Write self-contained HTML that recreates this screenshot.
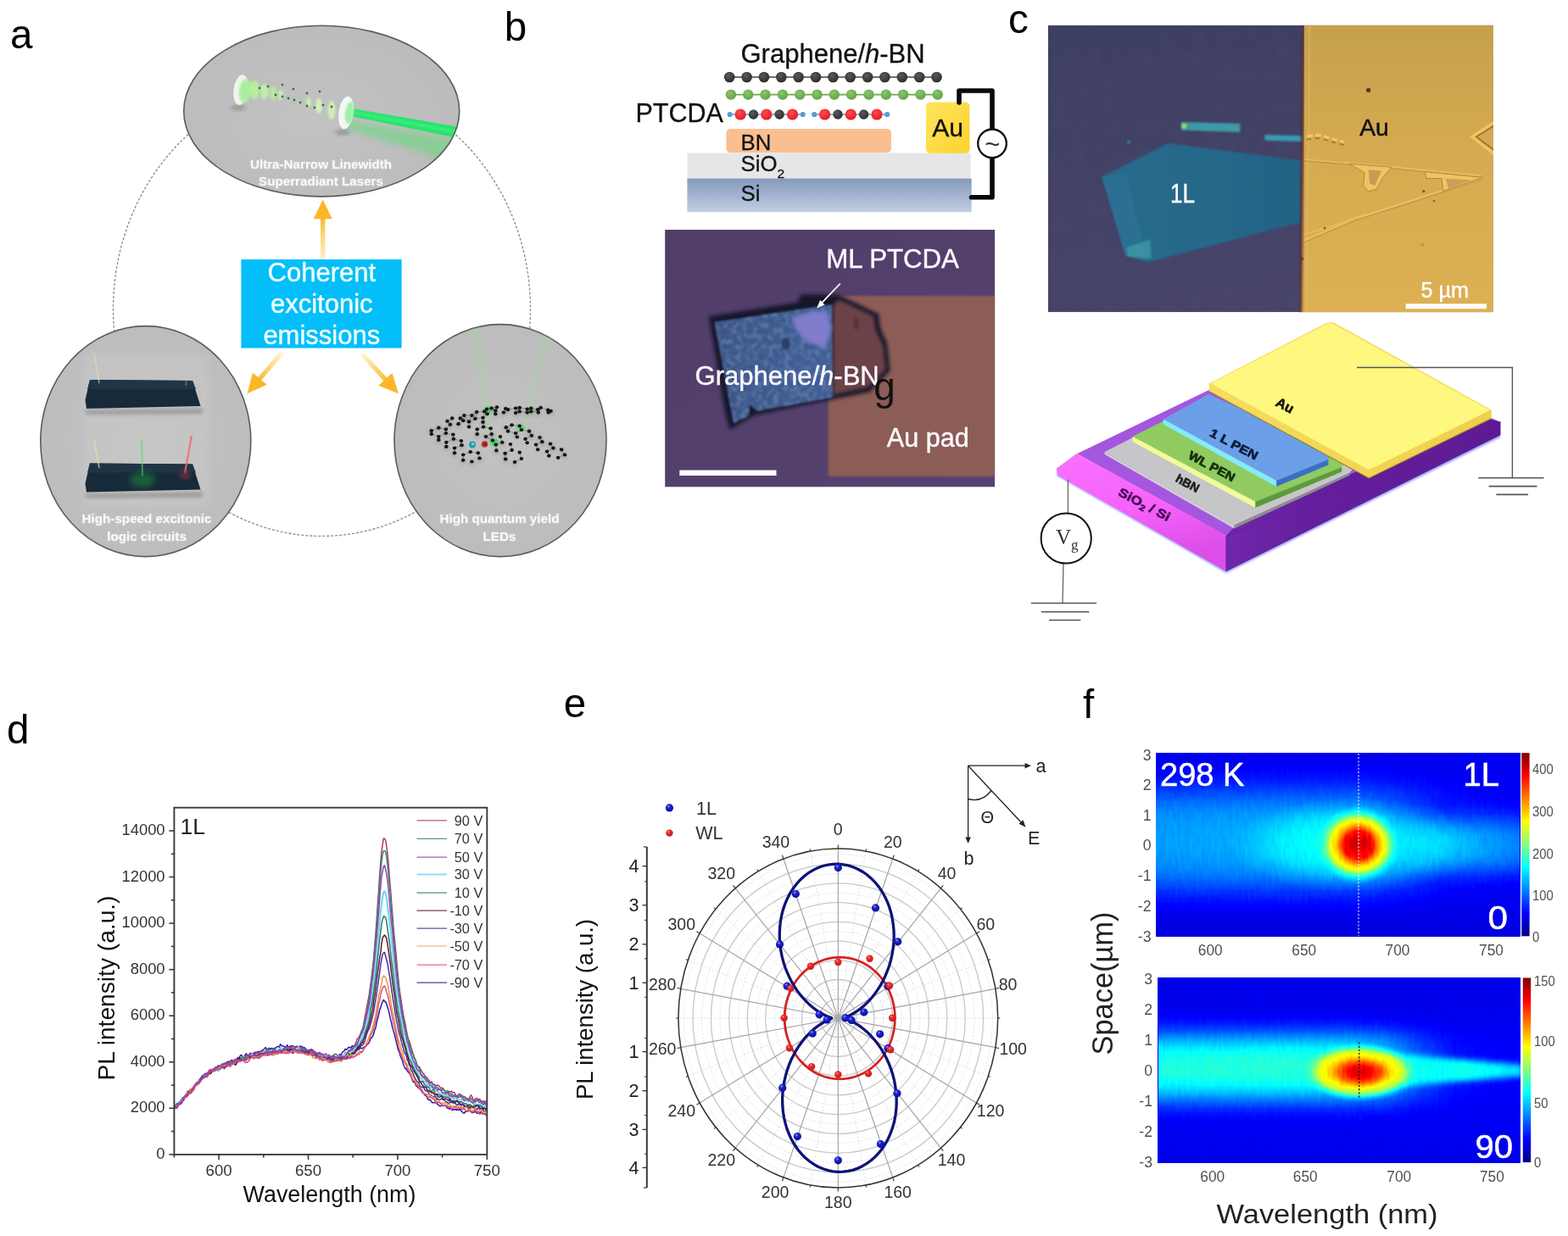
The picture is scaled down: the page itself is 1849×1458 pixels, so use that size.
<!DOCTYPE html>
<html lang="en"><head><meta charset="utf-8"><title>Figure</title>
<style>
html,body{margin:0;padding:0;background:#fff;}
body{width:1849px;height:1458px;overflow:hidden;}
svg{display:block;font-family:"Liberation Sans",sans-serif;filter:blur(0.5px);}
</style></head><body>
<svg width="1849" height="1458" viewBox="0 0 1849 1458">
<defs>

<linearGradient id="arrUp" x1="0" y1="0" x2="0" y2="1"><stop offset="0" stop-color="#fbb62a"/><stop offset="0.35" stop-color="#fcd06a"/><stop offset="1" stop-color="#fef0cc"/></linearGradient>
<linearGradient id="arrSide" x1="0" y1="0" x2="1" y2="0"><stop offset="0" stop-color="#fbb62a"/><stop offset="0.4" stop-color="#fcd06a"/><stop offset="1" stop-color="#fff6e0"/></linearGradient>
<radialGradient id="gEllTop" cx="0.45" cy="0.55" r="0.7"><stop offset="0" stop-color="#c2c2c2"/><stop offset="1" stop-color="#bababa"/></radialGradient>
<radialGradient id="gEllL" cx="0.5" cy="0.5" r="0.7"><stop offset="0" stop-color="#c4c4c4"/><stop offset="1" stop-color="#bababa"/></radialGradient>
<radialGradient id="gEllR" cx="0.5" cy="0.5" r="0.7"><stop offset="0" stop-color="#c2c2c2"/><stop offset="1" stop-color="#bababa"/></radialGradient>
<clipPath id="clipTop"><ellipse cx="379.2" cy="131.1" rx="162.5" ry="100.8"/></clipPath>
<clipPath id="clipR"><ellipse cx="590" cy="519.6" rx="125" ry="137"/></clipPath>
<filter id="blur05" x="-5%" y="-5%" width="110%" height="110%"><feGaussianBlur stdDeviation="0.55"/></filter>
<filter id="blur1" x="-50%" y="-50%" width="200%" height="200%"><feGaussianBlur stdDeviation="1"/></filter>
<filter id="blur2" x="-50%" y="-50%" width="200%" height="200%"><feGaussianBlur stdDeviation="2"/></filter>
<filter id="blur3" x="-50%" y="-50%" width="200%" height="200%"><feGaussianBlur stdDeviation="3.5"/></filter>
<filter id="tglow" x="-10%" y="-30%" width="120%" height="160%"><feGaussianBlur in="SourceAlpha" stdDeviation="1.2" result="b"/><feFlood flood-color="#ffffff" flood-opacity="0.35"/><feComposite in2="b" operator="in" result="g"/><feMerge><feMergeNode in="g"/><feMergeNode in="SourceGraphic"/></feMerge></filter>

<radialGradient id="atomDark" cx="0.4" cy="0.35" r="0.7"><stop offset="0" stop-color="#5a5a5a"/><stop offset="1" stop-color="#2a2a2a"/></radialGradient>
<radialGradient id="atomGreen" cx="0.4" cy="0.35" r="0.7"><stop offset="0" stop-color="#8cc66c"/><stop offset="1" stop-color="#5e9f45"/></radialGradient>
<radialGradient id="atomRed" cx="0.4" cy="0.35" r="0.7"><stop offset="0" stop-color="#ff4a4a"/><stop offset="1" stop-color="#e01b24"/></radialGradient>
<linearGradient id="gSi" x1="0" y1="0" x2="0" y2="1"><stop offset="0" stop-color="#8599bd"/><stop offset="0.5" stop-color="#a3b3d0"/><stop offset="1" stop-color="#c3cde2"/></linearGradient>
<linearGradient id="gAu" x1="0" y1="0" x2="1" y2="1"><stop offset="0" stop-color="#ffe460"/><stop offset="1" stop-color="#fbd32c"/></linearGradient>
<linearGradient id="gPhotoB" x1="0" y1="0" x2="1" y2="1"><stop offset="0" stop-color="#503d68"/><stop offset="1" stop-color="#574270"/></linearGradient>
<linearGradient id="gFlakeB" x1="0" y1="0" x2="1" y2="0"><stop offset="0" stop-color="#3b5684"/><stop offset="1" stop-color="#415e96"/></linearGradient>
<clipPath id="clipPhotoB"><rect x="784.1" y="270.9" width="389.1" height="303.7"/></clipPath>
<filter id="blurB2" x="-20%" y="-20%" width="140%" height="140%"><feGaussianBlur stdDeviation="1.9"/></filter>
<filter id="blurB1" x="-20%" y="-20%" width="140%" height="140%"><feGaussianBlur stdDeviation="1.3"/></filter>
<filter id="noiseB" x="0" y="0" width="100%" height="100%"><feTurbulence type="fractalNoise" baseFrequency="0.16" numOctaves="2" seed="3" result="n"/><feColorMatrix in="n" type="matrix" values="0 0 0 0 1  0 0 0 0 1  0 0 0 0 1  0 0 0 3.2 -1.35" result="a"/><feComposite in="SourceGraphic" in2="a" operator="in"/><feGaussianBlur stdDeviation="0.8"/></filter>

<clipPath id="clipPhotoC"><rect x="1235.7" y="29.7" width="525" height="338.6"/></clipPath>
<linearGradient id="gDarkC" x1="0" y1="0" x2="0.2" y2="1"><stop offset="0" stop-color="#3d3f62"/><stop offset="1" stop-color="#484469"/></linearGradient>
<linearGradient id="gGoldC" x1="0" y1="0" x2="0" y2="1"><stop offset="0" stop-color="#c5a14c"/><stop offset="0.45" stop-color="#d6aa50"/><stop offset="1" stop-color="#ddb053"/></linearGradient>
<linearGradient id="gFlakeC" x1="0" y1="0" x2="1" y2="0"><stop offset="0" stop-color="#286c8c"/><stop offset="1" stop-color="#236386"/></linearGradient>
<linearGradient id="gMag" x1="0" y1="0" x2="0.3" y2="1"><stop offset="0" stop-color="#f872fd"/><stop offset="0.55" stop-color="#f662fa"/><stop offset="1" stop-color="#dc4ee8"/></linearGradient>
<linearGradient id="gSideC" x1="0" y1="0" x2="1" y2="0"><stop offset="0" stop-color="#7026aa"/><stop offset="0.3" stop-color="#651f9e"/><stop offset="1" stop-color="#5c1b92"/></linearGradient>
<linearGradient id="gAuEdge" x1="0" y1="0" x2="1" y2="0"><stop offset="0" stop-color="#f6dc5e"/><stop offset="1" stop-color="#efcf4c"/></linearGradient>
<filter id="blurC1" x="-20%" y="-20%" width="140%" height="140%"><feGaussianBlur stdDeviation="1.1"/></filter>
<filter id="blurC05" x="-50%" y="-50%" width="200%" height="200%"><feGaussianBlur stdDeviation="0.7"/></filter>
<filter id="noiseC" x="0" y="0" width="100%" height="100%"><feTurbulence type="fractalNoise" baseFrequency="0.05" numOctaves="2" seed="7" result="n"/><feColorMatrix in="n" type="matrix" values="0 0 0 0 1  0 0 0 0 1  0 0 0 0 1  0 0 0 4 -1.6" result="a"/><feComposite in="SourceGraphic" in2="a" operator="in"/></filter>

<clipPath id="clipD"><rect x="205.4" y="952.7" width="368.9" height="409.2"/></clipPath>

<radialGradient id="ballB" cx="0.38" cy="0.32" r="0.75"><stop offset="0" stop-color="#8a9aff"/><stop offset="0.3" stop-color="#1c24c8"/><stop offset="1" stop-color="#0a0a96"/></radialGradient>
<radialGradient id="ballR" cx="0.38" cy="0.32" r="0.75"><stop offset="0" stop-color="#ffa0a0"/><stop offset="0.25" stop-color="#e83030"/><stop offset="1" stop-color="#c01818"/></radialGradient>
<filter id="jet1" filterUnits="userSpaceOnUse" x="1363" y="888.2" width="429.3" height="216.1" color-interpolation-filters="sRGB">
<feTurbulence type="fractalNoise" baseFrequency="0.28 0.07" numOctaves="1" seed="3" result="n"/>
<feColorMatrix in="n" type="matrix" values="1 0 0 0 0  1 0 0 0 0  1 0 0 0 0  0 0 0 0 1" result="ng"/>
<feComposite in="SourceGraphic" in2="ng" operator="arithmetic" k1="0.10" k2="0.95" k3="0.012" k4="-0.006" result="s"/>
<feComponentTransfer in="s"><feFuncR type="table" tableValues="0 0 0 0 0.5 1 1 1 0.5"/><feFuncG type="table" tableValues="0 0 0.5 1 1 1 0.5 0 0"/><feFuncB type="table" tableValues="0.5 1 1 1 0.5 0 0 0 0"/><feFuncA type="linear" slope="0" intercept="1"/></feComponentTransfer>
</filter><filter id="jet2" filterUnits="userSpaceOnUse" x="1365.5" y="1153.5" width="427.5" height="217.6" color-interpolation-filters="sRGB">
<feTurbulence type="fractalNoise" baseFrequency="0.28 0.07" numOctaves="1" seed="8" result="n"/>
<feColorMatrix in="n" type="matrix" values="1 0 0 0 0  1 0 0 0 0  1 0 0 0 0  0 0 0 0 1" result="ng"/>
<feComposite in="SourceGraphic" in2="ng" operator="arithmetic" k1="0.10" k2="0.95" k3="0.012" k4="-0.006" result="s"/>
<feComponentTransfer in="s"><feFuncR type="table" tableValues="0 0 0 0 0.5 1 1 1 0.5"/><feFuncG type="table" tableValues="0 0 0.5 1 1 1 0.5 0 0"/><feFuncB type="table" tableValues="0.5 1 1 1 0.5 0 0 0 0"/><feFuncA type="linear" slope="0" intercept="1"/></feComponentTransfer>
</filter><linearGradient id="bg1" x1="0" y1="0" x2="0" y2="1"><stop offset="0" stop-color="#1c1c1c"/><stop offset="0.5" stop-color="#1f1f1f"/><stop offset="0.8" stop-color="#1c1c1c"/><stop offset="1" stop-color="#181818"/></linearGradient><linearGradient id="bg2" x1="0" y1="0" x2="0" y2="1"><stop offset="0" stop-color="#1a1a1a"/><stop offset="0.5" stop-color="#1f1f1f"/><stop offset="0.8" stop-color="#1d1d1d"/><stop offset="1" stop-color="#1b1b1b"/></linearGradient><linearGradient id="band1v" x1="0" y1="0" x2="0" y2="1"><stop offset="0.000" stop-color="#fff" stop-opacity="0.001"/><stop offset="0.042" stop-color="#fff" stop-opacity="0.004"/><stop offset="0.083" stop-color="#fff" stop-opacity="0.012"/><stop offset="0.125" stop-color="#fff" stop-opacity="0.029"/><stop offset="0.167" stop-color="#fff" stop-opacity="0.057"/><stop offset="0.208" stop-color="#fff" stop-opacity="0.093"/><stop offset="0.250" stop-color="#fff" stop-opacity="0.130"/><stop offset="0.292" stop-color="#fff" stop-opacity="0.161"/><stop offset="0.333" stop-color="#fff" stop-opacity="0.183"/><stop offset="0.375" stop-color="#fff" stop-opacity="0.195"/><stop offset="0.417" stop-color="#fff" stop-opacity="0.199"/><stop offset="0.458" stop-color="#fff" stop-opacity="0.200"/><stop offset="0.500" stop-color="#fff" stop-opacity="0.200"/><stop offset="0.542" stop-color="#fff" stop-opacity="0.199"/><stop offset="0.583" stop-color="#fff" stop-opacity="0.193"/><stop offset="0.625" stop-color="#fff" stop-opacity="0.179"/><stop offset="0.667" stop-color="#fff" stop-opacity="0.156"/><stop offset="0.708" stop-color="#fff" stop-opacity="0.123"/><stop offset="0.750" stop-color="#fff" stop-opacity="0.085"/><stop offset="0.792" stop-color="#fff" stop-opacity="0.050"/><stop offset="0.833" stop-color="#fff" stop-opacity="0.025"/><stop offset="0.875" stop-color="#fff" stop-opacity="0.009"/><stop offset="0.917" stop-color="#fff" stop-opacity="0.003"/><stop offset="0.958" stop-color="#fff" stop-opacity="0.001"/><stop offset="1.000" stop-color="#fff" stop-opacity="0.000"/></linearGradient><linearGradient id="band1mg" x1="0" y1="0" x2="1" y2="0"><stop offset="0.000" stop-color="#e6e6e6"/><stop offset="0.150" stop-color="#f2f2f2"/><stop offset="0.400" stop-color="#ffffff"/><stop offset="0.560" stop-color="#ffffff"/><stop offset="0.680" stop-color="#999999"/><stop offset="0.800" stop-color="#333333"/><stop offset="1.000" stop-color="#0d0d0d"/></linearGradient><mask id="band1m" maskUnits="userSpaceOnUse" x="1363" y="888.2" width="429.3" height="216.1"><rect x="1363" y="888.2" width="429.3" height="216.1" fill="url(#band1mg)"/></mask><linearGradient id="band1r" x1="0" y1="0" x2="0" y2="1"><stop offset="0.000" stop-color="#fff" stop-opacity="0.000"/><stop offset="0.042" stop-color="#fff" stop-opacity="0.000"/><stop offset="0.083" stop-color="#fff" stop-opacity="0.000"/><stop offset="0.125" stop-color="#fff" stop-opacity="0.000"/><stop offset="0.167" stop-color="#fff" stop-opacity="0.000"/><stop offset="0.208" stop-color="#fff" stop-opacity="0.000"/><stop offset="0.250" stop-color="#fff" stop-opacity="0.001"/><stop offset="0.292" stop-color="#fff" stop-opacity="0.011"/><stop offset="0.333" stop-color="#fff" stop-opacity="0.042"/><stop offset="0.375" stop-color="#fff" stop-opacity="0.095"/><stop offset="0.417" stop-color="#fff" stop-opacity="0.147"/><stop offset="0.458" stop-color="#fff" stop-opacity="0.175"/><stop offset="0.500" stop-color="#fff" stop-opacity="0.180"/><stop offset="0.542" stop-color="#fff" stop-opacity="0.177"/><stop offset="0.583" stop-color="#fff" stop-opacity="0.157"/><stop offset="0.625" stop-color="#fff" stop-opacity="0.109"/><stop offset="0.667" stop-color="#fff" stop-opacity="0.053"/><stop offset="0.708" stop-color="#fff" stop-opacity="0.016"/><stop offset="0.750" stop-color="#fff" stop-opacity="0.003"/><stop offset="0.792" stop-color="#fff" stop-opacity="0.000"/><stop offset="0.833" stop-color="#fff" stop-opacity="0.000"/><stop offset="0.875" stop-color="#fff" stop-opacity="0.000"/><stop offset="0.917" stop-color="#fff" stop-opacity="0.000"/><stop offset="0.958" stop-color="#fff" stop-opacity="0.000"/><stop offset="1.000" stop-color="#fff" stop-opacity="0.000"/></linearGradient><linearGradient id="band1rmg" x1="0" y1="0" x2="1" y2="0"><stop offset="0.000" stop-color="#000000"/><stop offset="0.620" stop-color="#000000"/><stop offset="0.800" stop-color="#e6e6e6"/><stop offset="0.900" stop-color="#f2f2f2"/><stop offset="1.000" stop-color="#cccccc"/></linearGradient><mask id="band1rm" maskUnits="userSpaceOnUse" x="1363" y="888.2" width="429.3" height="216.1"><rect x="1363" y="888.2" width="429.3" height="216.1" fill="url(#band1rmg)"/></mask><radialGradient id="halo1" cx="0.5" cy="0.5" r="0.5"><stop offset="0.000" stop-color="#fff" stop-opacity="0.120"/><stop offset="0.400" stop-color="#fff" stop-opacity="0.120"/><stop offset="0.633" stop-color="#fff" stop-opacity="0.085"/><stop offset="0.800" stop-color="#fff" stop-opacity="0.040"/><stop offset="1.000" stop-color="#fff" stop-opacity="0.000"/></radialGradient><radialGradient id="spot1" cx="0.5" cy="0.5" r="0.5"><stop offset="0.000" stop-color="#fff" stop-opacity="0.875"/><stop offset="0.200" stop-color="#fff" stop-opacity="0.840"/><stop offset="0.360" stop-color="#fff" stop-opacity="0.770"/><stop offset="0.420" stop-color="#fff" stop-opacity="0.660"/><stop offset="0.500" stop-color="#fff" stop-opacity="0.530"/><stop offset="0.560" stop-color="#fff" stop-opacity="0.450"/><stop offset="0.660" stop-color="#fff" stop-opacity="0.375"/><stop offset="0.740" stop-color="#fff" stop-opacity="0.220"/><stop offset="0.820" stop-color="#fff" stop-opacity="0.095"/><stop offset="0.920" stop-color="#fff" stop-opacity="0.030"/><stop offset="1.000" stop-color="#fff" stop-opacity="0.000"/></radialGradient><linearGradient id="band2v" x1="0" y1="0" x2="0" y2="1"><stop offset="0.000" stop-color="#fff" stop-opacity="0.000"/><stop offset="0.042" stop-color="#fff" stop-opacity="0.000"/><stop offset="0.083" stop-color="#fff" stop-opacity="0.000"/><stop offset="0.125" stop-color="#fff" stop-opacity="0.000"/><stop offset="0.167" stop-color="#fff" stop-opacity="0.003"/><stop offset="0.208" stop-color="#fff" stop-opacity="0.014"/><stop offset="0.250" stop-color="#fff" stop-opacity="0.049"/><stop offset="0.292" stop-color="#fff" stop-opacity="0.114"/><stop offset="0.333" stop-color="#fff" stop-opacity="0.199"/><stop offset="0.375" stop-color="#fff" stop-opacity="0.273"/><stop offset="0.417" stop-color="#fff" stop-opacity="0.318"/><stop offset="0.458" stop-color="#fff" stop-opacity="0.332"/><stop offset="0.500" stop-color="#fff" stop-opacity="0.333"/><stop offset="0.542" stop-color="#fff" stop-opacity="0.324"/><stop offset="0.583" stop-color="#fff" stop-opacity="0.289"/><stop offset="0.625" stop-color="#fff" stop-opacity="0.222"/><stop offset="0.667" stop-color="#fff" stop-opacity="0.137"/><stop offset="0.708" stop-color="#fff" stop-opacity="0.064"/><stop offset="0.750" stop-color="#fff" stop-opacity="0.021"/><stop offset="0.792" stop-color="#fff" stop-opacity="0.005"/><stop offset="0.833" stop-color="#fff" stop-opacity="0.001"/><stop offset="0.875" stop-color="#fff" stop-opacity="0.000"/><stop offset="0.917" stop-color="#fff" stop-opacity="0.000"/><stop offset="0.958" stop-color="#fff" stop-opacity="0.000"/><stop offset="1.000" stop-color="#fff" stop-opacity="0.000"/></linearGradient><linearGradient id="band2mg" x1="0" y1="0" x2="1" y2="0"><stop offset="0.000" stop-color="#f7f7f7"/><stop offset="0.300" stop-color="#ffffff"/><stop offset="0.520" stop-color="#ffffff"/><stop offset="0.620" stop-color="#cccccc"/><stop offset="0.720" stop-color="#595959"/><stop offset="0.820" stop-color="#141414"/><stop offset="1.000" stop-color="#000000"/></linearGradient><mask id="band2m" maskUnits="userSpaceOnUse" x="1365.5" y="1153.5" width="427.5" height="217.6"><rect x="1365.5" y="1153.5" width="427.5" height="217.6" fill="url(#band2mg)"/></mask><linearGradient id="band2r" x1="0" y1="0" x2="1" y2="0"><stop offset="0" stop-color="#fff" stop-opacity="0"/><stop offset="0.3" stop-color="#fff" stop-opacity="0.2"/><stop offset="0.6" stop-color="#fff" stop-opacity="0.3"/><stop offset="1" stop-color="#fff" stop-opacity="0.26"/></linearGradient><radialGradient id="spot2" cx="0.5" cy="0.5" r="0.5"><stop offset="0.000" stop-color="#fff" stop-opacity="0.860"/><stop offset="0.221" stop-color="#fff" stop-opacity="0.790"/><stop offset="0.382" stop-color="#fff" stop-opacity="0.620"/><stop offset="0.485" stop-color="#fff" stop-opacity="0.480"/><stop offset="0.588" stop-color="#fff" stop-opacity="0.400"/><stop offset="0.735" stop-color="#fff" stop-opacity="0.310"/><stop offset="0.824" stop-color="#fff" stop-opacity="0.140"/><stop offset="0.912" stop-color="#fff" stop-opacity="0.050"/><stop offset="1.000" stop-color="#fff" stop-opacity="0.000"/></radialGradient><filter id="blurF" x="-10%" y="-50%" width="120%" height="200%"><feGaussianBlur stdDeviation="3.5"/></filter><linearGradient id="jetbar" x1="0" y1="1" x2="0" y2="0"><stop offset="0" stop-color="#000080"/><stop offset="0.125" stop-color="#0000ff"/><stop offset="0.25" stop-color="#0080ff"/><stop offset="0.375" stop-color="#00ffff"/><stop offset="0.5" stop-color="#80ff80"/><stop offset="0.625" stop-color="#ffff00"/><stop offset="0.75" stop-color="#ff8000"/><stop offset="0.875" stop-color="#ff0000"/><stop offset="1" stop-color="#800000"/></linearGradient>
</defs>
<rect width="1849" height="1458" fill="#ffffff"/>
<g id="panel-a">
<text x="25.3" y="57.3" font-size="47.5" fill="#000" text-anchor="middle" font-weight="normal" >a</text>
<ellipse cx="379.5" cy="364.4" rx="246" ry="268" fill="none" stroke="#8e8e8e" stroke-width="1.35" stroke-dasharray="3 2"/>
<g>
 <rect x="378" y="255" width="5.4" height="52" fill="url(#arrUp)"/>
 <polygon points="380.7,235.5 391.8,258.3 369.6,258.3" fill="#fbb62a"/>
 <g transform="translate(291.5,464.3) rotate(-49.7)">
  <rect x="18" y="-2.7" width="46" height="5.4" fill="url(#arrSide)"/>
  <polygon points="0,0 23,-11 23,11" fill="#fbb62a"/>
 </g>
 <g transform="translate(469.9,464.3) rotate(-132.7)">
  <rect x="18" y="-2.7" width="46" height="5.4" fill="url(#arrSide)"/>
  <polygon points="0,0 23,-11 23,11" fill="#fbb62a"/>
 </g>
</g>
<rect x="284.4" y="306" width="189.2" height="104.6" fill="#04bef9"/>
<text x="379.3" y="332" font-size="31" fill="#ecffff" text-anchor="middle" font-weight="normal" stroke="#ecffff" stroke-width="0.4">Coherent</text>
<text x="379.3" y="369" font-size="31" fill="#ecffff" text-anchor="middle" font-weight="normal" stroke="#ecffff" stroke-width="0.4">excitonic</text>
<text x="379.3" y="406" font-size="31" fill="#ecffff" text-anchor="middle" font-weight="normal" stroke="#ecffff" stroke-width="0.4">emissions</text>
<g clip-path="url(#clipTop)">
<ellipse cx="379.2" cy="131.1" rx="162.5" ry="100.8" fill="url(#gEllTop)"/>
<polygon points="404,150 412,142 540,166 528,190" fill="#4fe06a" opacity="0.45" filter="url(#blur3)"/>
<polygon points="412,127.5 412,136.5 545,164 545,150.5" fill="#25e56c" filter="url(#blur05)"/>
<polygon points="412,130.5 412,133.5 545,159 545,155" fill="#48f084" opacity="0.7" filter="url(#blur1)"/>
<ellipse cx="281" cy="127" rx="9" ry="3" fill="#777" opacity="0.6" filter="url(#blur2)"/>
<ellipse cx="404" cy="156" rx="9" ry="3" fill="#777" opacity="0.6" filter="url(#blur2)"/>
<ellipse cx="284" cy="106" rx="8.5" ry="18" fill="#eef6ea" transform="rotate(8 284 106)"/>
<ellipse cx="289" cy="107" rx="7" ry="14" fill="#a8f0a0" transform="rotate(8 289 107)" filter="url(#blur1)"/>
<ellipse cx="408" cy="133" rx="8.5" ry="19.5" fill="#f4f8f4" transform="rotate(8 408 133)"/>
<ellipse cx="412" cy="133" rx="5" ry="13" fill="#9df0a8" transform="rotate(8 412 133)" filter="url(#blur1)"/>
<ellipse cx="300" cy="106" rx="6" ry="11" fill="#b9f29a" opacity="0.9" filter="url(#blur1)"/>
<ellipse cx="312" cy="108" rx="5" ry="9" fill="#c4f3a4" opacity="0.9" filter="url(#blur1)"/>
<ellipse cx="322" cy="110" rx="4" ry="8" fill="#b4ee98" opacity="0.9" filter="url(#blur1)"/>
<ellipse cx="331" cy="112" rx="3" ry="6" fill="#c9f2b4" opacity="0.9" filter="url(#blur1)"/>
<ellipse cx="364" cy="120" rx="3" ry="6" fill="#c9f0b0" opacity="0.9" filter="url(#blur1)"/>
<ellipse cx="376" cy="125" rx="4" ry="9" fill="#d8f2c0" opacity="0.9" filter="url(#blur1)"/>
<ellipse cx="391" cy="130" rx="4.5" ry="11" fill="#d6f0b8" opacity="0.9" filter="url(#blur1)"/>
<circle cx="306" cy="104" r="1.4" fill="#2c7a2c"/>
<circle cx="316" cy="102" r="1.4" fill="#2c7a2c"/>
<circle cx="325" cy="112" r="1.4" fill="#2c7a2c"/>
<circle cx="333" cy="100" r="1.4" fill="#2c7a2c"/>
<circle cx="333" cy="114" r="1.4" fill="#2c7a2c"/>
<circle cx="340" cy="116" r="1.4" fill="#2c7a2c"/>
<circle cx="346" cy="105" r="1.4" fill="#2c7a2c"/>
<circle cx="347" cy="118" r="1.4" fill="#2c7a2c"/>
<circle cx="354" cy="121" r="1.4" fill="#2c7a2c"/>
<circle cx="362" cy="110" r="1.4" fill="#2c7a2c"/>
<circle cx="362" cy="125" r="1.4" fill="#2c7a2c"/>
<circle cx="371" cy="127" r="1.4" fill="#2c7a2c"/>
<circle cx="377" cy="108" r="1.4" fill="#2c7a2c"/>
<circle cx="381" cy="124" r="1.4" fill="#2c7a2c"/>
<circle cx="391" cy="126" r="1.4" fill="#2c7a2c"/>
</g>
<ellipse cx="379.2" cy="131.1" rx="162.5" ry="100.8" fill="none" stroke="#5c5c5c" stroke-width="1.6"/>
<text x="378.5" y="198.6" font-size="15.2" fill="#fafafa" text-anchor="middle" font-weight="bold" filter="url(#tglow)">Ultra-Narrow Linewidth</text>
<text x="378.5" y="218.6" font-size="15.2" fill="#fafafa" text-anchor="middle" font-weight="bold" filter="url(#tglow)">Superradiant Lasers</text>
<ellipse cx="171.8" cy="520.6" rx="124" ry="136" fill="url(#gEllL)" stroke="#5c5c5c" stroke-width="1.6"/>
<rect x="98" y="418" width="148" height="178" fill="#cdcdcd" opacity="0.35" filter="url(#blur3)"/>
<polygon points="100,484 240,482 238,488 102,489" fill="#666" opacity="0.45" filter="url(#blur2)"/>
<polygon points="106,448 227,449 236.5,479 102,482 100.5,472" fill="#172a3a"/>
<polygon points="106,448 227,449 231,459 103,459" fill="#1f3546"/>
<polygon points="100,582.5 240,580.5 238,586.5 102,587.5" fill="#666" opacity="0.45" filter="url(#blur2)"/>
<polygon points="106,546.5 227,547.5 236.5,577.5 102,580.5 100.5,570.5" fill="#172a3a"/>
<polygon points="106,546.5 227,547.5 231,557.5 103,557.5" fill="#1f3546"/>
<line x1="111" y1="416" x2="117" y2="452" stroke="#e8e6a8" stroke-width="1.6" opacity="0.55"/>
<line x1="224" y1="415" x2="219" y2="455" stroke="#d9b8b8" stroke-width="1.4" opacity="0.45"/>
<line x1="111" y1="520" x2="117" y2="552" stroke="#e6e6a0" stroke-width="1.8" opacity="0.6"/>
<line x1="167" y1="518" x2="168" y2="562" stroke="#56d86a" stroke-width="2" opacity="0.6"/>
<line x1="226" y1="514" x2="218" y2="558" stroke="#f06a72" stroke-width="2.2" opacity="0.85"/>
<ellipse cx="168" cy="566" rx="15" ry="9" fill="#1e8a3a" opacity="0.55" filter="url(#blur3)"/>
<ellipse cx="218" cy="560" rx="7" ry="6" fill="#8a3040" opacity="0.55" filter="url(#blur2)"/>
<text x="173" y="617" font-size="15.2" fill="#fafafa" text-anchor="middle" font-weight="bold" filter="url(#tglow)">High-speed excitonic</text>
<text x="173" y="637.5" font-size="15.2" fill="#fafafa" text-anchor="middle" font-weight="bold" filter="url(#tglow)">logic circuits</text>
<ellipse cx="590" cy="519.6" rx="125" ry="137" fill="url(#gEllR)" stroke="#5c5c5c" stroke-width="1.6"/>
<g clip-path="url(#clipR)">
<polygon points="553,383 567,383 582,520 575,520" fill="#a6d8a2" opacity="0.27" filter="url(#blur1)"/>
<polygon points="641,383 655,383 623,505 616,505" fill="#a6d8a2" opacity="0.22" filter="url(#blur1)"/>
</g>
<g filter="url(#blur2)" opacity="0.35">
<circle cx="508.7" cy="509.6" r="3.2" fill="#777"/>
<circle cx="517.3" cy="506.2" r="3.2" fill="#777"/>
<circle cx="517.3" cy="520.4" r="3.2" fill="#777"/>
<circle cx="525.8" cy="512.5" r="3.2" fill="#777"/>
<circle cx="526.3" cy="528.4" r="3.2" fill="#777"/>
<circle cx="534.9" cy="519.3" r="3.2" fill="#777"/>
<circle cx="536.0" cy="535.8" r="3.2" fill="#777"/>
<circle cx="544.5" cy="526.7" r="3.2" fill="#777"/>
<circle cx="546.2" cy="544.3" r="3.2" fill="#777"/>
<circle cx="556.4" cy="546.0" r="3.2" fill="#777"/>
<circle cx="565.5" cy="542.0" r="3.2" fill="#777"/>
<circle cx="530.9" cy="502.3" r="3.2" fill="#777"/>
<circle cx="540.5" cy="501.7" r="3.2" fill="#777"/>
<circle cx="547.4" cy="491.5" r="3.2" fill="#777"/>
<circle cx="553.0" cy="498.9" r="3.2" fill="#777"/>
<circle cx="556.4" cy="491.5" r="3.2" fill="#777"/>
<circle cx="562.1" cy="487.5" r="3.2" fill="#777"/>
<circle cx="562.7" cy="513.6" r="3.2" fill="#777"/>
<circle cx="569.5" cy="499.4" r="3.2" fill="#777"/>
<circle cx="572.9" cy="516.5" r="3.2" fill="#777"/>
<circle cx="574.0" cy="484.1" r="3.2" fill="#777"/>
<circle cx="579.7" cy="483.0" r="3.2" fill="#777"/>
<circle cx="584.3" cy="489.8" r="3.2" fill="#777"/>
<circle cx="593.9" cy="488.1" r="3.2" fill="#777"/>
<circle cx="599.0" cy="484.7" r="3.2" fill="#777"/>
<circle cx="608.1" cy="488.6" r="3.2" fill="#777"/>
<circle cx="612.7" cy="486.9" r="3.2" fill="#777"/>
<circle cx="621.7" cy="488.1" r="3.2" fill="#777"/>
<circle cx="626.3" cy="486.9" r="3.2" fill="#777"/>
<circle cx="634.8" cy="488.1" r="3.2" fill="#777"/>
<circle cx="646.2" cy="485.2" r="3.2" fill="#777"/>
<circle cx="649.6" cy="486.4" r="3.2" fill="#777"/>
<circle cx="579.7" cy="513.6" r="3.2" fill="#777"/>
<circle cx="592.2" cy="523.3" r="3.2" fill="#777"/>
<circle cx="580.9" cy="521.0" r="3.2" fill="#777"/>
<circle cx="585.4" cy="532.9" r="3.2" fill="#777"/>
<circle cx="595.6" cy="536.3" r="3.2" fill="#777"/>
<circle cx="596.2" cy="543.1" r="3.2" fill="#777"/>
<circle cx="607.0" cy="546.6" r="3.2" fill="#777"/>
<circle cx="596.8" cy="505.7" r="3.2" fill="#777"/>
<circle cx="608.1" cy="512.5" r="3.2" fill="#777"/>
<circle cx="612.7" cy="504.0" r="3.2" fill="#777"/>
<circle cx="624.0" cy="510.2" r="3.2" fill="#777"/>
<circle cx="626.9" cy="515.3" r="3.2" fill="#777"/>
<circle cx="636.5" cy="517.6" r="3.2" fill="#777"/>
<circle cx="639.3" cy="522.7" r="3.2" fill="#777"/>
<circle cx="649.0" cy="525.0" r="3.2" fill="#777"/>
<circle cx="652.4" cy="530.1" r="3.2" fill="#777"/>
<circle cx="662.1" cy="531.8" r="3.2" fill="#777"/>
<circle cx="666.0" cy="538.0" r="3.2" fill="#777"/>
</g>
<circle cx="583.1" cy="522.0" r="4.6" fill="#3fdc60" filter="url(#blur1)"/>
<circle cx="614.4" cy="504.7" r="4.2" fill="#4fe070" filter="url(#blur1)"/>
<circle cx="576.3" cy="483.7" r="4" fill="#4fd868" filter="url(#blur1)"/>
<circle cx="624.0" cy="484.3" r="3.5" fill="#5fd878" filter="url(#blur1)"/>
<path d="M508.7,508.1L508.7,512.1M508.7,508.1L517.3,504.7M508.7,512.1L517.3,515.0M517.3,504.7L525.8,506.4M517.3,515.0L517.3,518.9M517.3,515.0L525.8,511.0M525.8,506.4L525.8,511.0M525.8,506.4L530.9,500.8M525.8,511.0L534.3,512.7M526.3,521.8L526.3,526.9M526.3,521.8L534.9,517.8M534.3,512.7L534.9,517.8M534.9,517.8L543.9,520.1M536.0,528.6L536.0,534.3M536.0,528.6L544.5,525.2M543.9,520.1L544.5,525.2M546.2,536.5L546.2,542.8M546.2,536.5L554.7,533.1M554.7,533.1L563.8,534.3M563.8,534.3L565.5,540.5M527.5,496.8L530.9,500.8M527.5,496.8L533.2,493.4M530.9,500.8L533.2,493.4M540.5,500.2L542.8,493.4M540.5,500.2L546.2,496.2M542.8,493.4L547.4,490.0M542.8,493.4L546.2,496.2M547.4,490.0L546.2,496.2M547.4,490.0L553.0,497.4M547.4,490.0L556.4,490.0M546.2,496.2L553.0,497.4M553.0,497.4L553.0,503.6M553.0,497.4L556.4,490.0M553.0,497.4L560.4,493.9M556.4,490.0L560.4,493.9M556.4,490.0L562.1,486.0M560.4,493.9L562.1,486.0M560.4,493.9L569.5,492.8M562.1,486.0L571.2,485.4M562.7,506.4L562.7,512.1M562.7,506.4L570.1,503.6M569.5,492.8L569.5,497.9M569.5,492.8L571.2,485.4M569.5,492.8L574.6,488.3M569.5,497.9L570.1,503.6M570.1,503.6L578.6,505.3M572.9,515.0L579.7,512.1M572.9,515.0L580.9,519.5M571.2,485.4L574.0,482.6M571.2,485.4L574.6,488.3M571.2,485.4L579.7,481.5M574.0,482.6L574.6,488.3M574.0,482.6L579.7,481.5M574.6,488.3L579.7,481.5M579.7,481.5L584.3,484.3M579.7,481.5L584.3,488.3M579.7,481.5L586.0,480.3M584.3,484.3L584.3,488.3M584.3,484.3L586.0,480.3M584.3,488.3L586.0,480.3M593.9,486.6L596.2,482.0M593.9,486.6L599.0,483.2M596.2,482.0L599.0,483.2M599.0,483.2L608.1,481.5M608.1,481.5L608.1,487.1M608.1,481.5L612.7,480.9M608.1,481.5L612.7,485.4M608.1,487.1L612.7,480.9M608.1,487.1L612.7,485.4M612.7,480.9L612.7,485.4M612.7,480.9L621.7,482.6M612.7,485.4L621.7,486.6M621.7,482.6L621.7,486.6M621.7,482.6L626.3,481.5M621.7,482.6L626.3,485.4M621.7,486.6L626.3,481.5M621.7,486.6L626.3,485.4M626.3,481.5L626.3,485.4M626.3,481.5L634.2,483.2M626.3,485.4L634.2,483.2M626.3,485.4L634.8,486.6M634.2,483.2L634.8,486.6M634.2,483.2L637.6,480.9M634.8,486.6L637.6,480.9M637.6,480.9L646.2,483.7M646.2,483.7L646.7,486.6M646.2,483.7L649.6,484.9M646.7,486.6L649.6,484.9M578.6,505.3L579.7,512.1M579.7,512.1L580.9,519.5M589.9,515.0L592.2,521.8M592.2,521.8L584.8,524.6M601.9,524.0L603.6,530.9M580.9,519.5L584.8,524.6M584.8,524.6L585.4,531.4M603.6,530.9L595.6,534.8M595.6,534.8L596.2,541.6M612.7,533.7L614.9,541.1M614.9,541.1L607.0,545.1M603.6,501.3L596.8,504.2M603.6,501.3L599.0,508.7M603.6,501.3L612.7,502.5M596.8,504.2L599.0,508.7M599.0,508.7L608.1,511.0M608.1,511.0L609.8,515.5M608.1,511.0L614.9,507.0M612.7,502.5L614.9,507.0M614.9,507.0L624.0,508.7M624.0,508.7L626.9,513.8M619.5,517.8L626.9,513.8M619.5,517.8L621.7,522.3M636.5,516.1L639.3,521.2M632.0,524.6L639.3,521.2M632.0,524.6L634.2,530.3M649.0,523.5L652.4,528.6M645.0,532.6L652.4,528.6M645.0,532.6L647.3,537.7M662.1,530.3L666.0,536.5M658.1,539.9L666.0,536.5" stroke="#4a4a4a" stroke-width="1.1" opacity="0.38" fill="none" filter="url(#blur05)"/>
<g filter="url(#blur05)">
<ellipse cx="508.7" cy="508.1" rx="2.3" ry="2.1" fill="#141414"/>
<ellipse cx="508.7" cy="512.1" rx="2.3" ry="2.1" fill="#141414"/>
<ellipse cx="517.3" cy="504.7" rx="2.3" ry="2.1" fill="#141414"/>
<ellipse cx="517.3" cy="515.0" rx="2.3" ry="2.1" fill="#141414"/>
<ellipse cx="517.3" cy="518.9" rx="2.3" ry="2.1" fill="#141414"/>
<ellipse cx="525.8" cy="506.4" rx="2.3" ry="2.1" fill="#141414"/>
<ellipse cx="525.8" cy="511.0" rx="2.3" ry="2.1" fill="#141414"/>
<ellipse cx="526.3" cy="521.8" rx="2.3" ry="2.1" fill="#141414"/>
<ellipse cx="526.3" cy="526.9" rx="2.3" ry="2.1" fill="#141414"/>
<ellipse cx="534.3" cy="512.7" rx="2.3" ry="2.1" fill="#141414"/>
<ellipse cx="534.9" cy="517.8" rx="2.3" ry="2.1" fill="#141414"/>
<ellipse cx="536.0" cy="528.6" rx="2.3" ry="2.1" fill="#141414"/>
<ellipse cx="536.0" cy="534.3" rx="2.3" ry="2.1" fill="#141414"/>
<ellipse cx="543.9" cy="520.1" rx="2.3" ry="2.1" fill="#141414"/>
<ellipse cx="544.5" cy="525.2" rx="2.3" ry="2.1" fill="#141414"/>
<ellipse cx="546.2" cy="536.5" rx="2.3" ry="2.1" fill="#141414"/>
<ellipse cx="546.2" cy="542.8" rx="2.3" ry="2.1" fill="#141414"/>
<ellipse cx="554.7" cy="533.1" rx="2.3" ry="2.1" fill="#141414"/>
<ellipse cx="556.4" cy="544.5" rx="2.3" ry="2.1" fill="#141414"/>
<ellipse cx="563.8" cy="534.3" rx="2.3" ry="2.1" fill="#141414"/>
<ellipse cx="565.5" cy="540.5" rx="2.3" ry="2.1" fill="#141414"/>
<ellipse cx="527.5" cy="496.8" rx="2.3" ry="2.1" fill="#141414"/>
<ellipse cx="530.9" cy="500.8" rx="2.3" ry="2.1" fill="#141414"/>
<ellipse cx="533.2" cy="493.4" rx="2.3" ry="2.1" fill="#141414"/>
<ellipse cx="540.5" cy="500.2" rx="2.3" ry="2.1" fill="#141414"/>
<ellipse cx="542.8" cy="493.4" rx="2.3" ry="2.1" fill="#141414"/>
<ellipse cx="547.4" cy="490.0" rx="2.3" ry="2.1" fill="#141414"/>
<ellipse cx="546.2" cy="496.2" rx="2.3" ry="2.1" fill="#141414"/>
<ellipse cx="553.0" cy="497.4" rx="2.3" ry="2.1" fill="#141414"/>
<ellipse cx="553.0" cy="503.6" rx="2.3" ry="2.1" fill="#141414"/>
<ellipse cx="556.4" cy="490.0" rx="2.3" ry="2.1" fill="#141414"/>
<ellipse cx="560.4" cy="493.9" rx="2.3" ry="2.1" fill="#141414"/>
<ellipse cx="562.1" cy="486.0" rx="2.3" ry="2.1" fill="#141414"/>
<ellipse cx="562.7" cy="506.4" rx="2.3" ry="2.1" fill="#141414"/>
<ellipse cx="562.7" cy="512.1" rx="2.3" ry="2.1" fill="#141414"/>
<ellipse cx="569.5" cy="492.8" rx="2.3" ry="2.1" fill="#141414"/>
<ellipse cx="569.5" cy="497.9" rx="2.3" ry="2.1" fill="#141414"/>
<ellipse cx="570.1" cy="503.6" rx="2.3" ry="2.1" fill="#141414"/>
<ellipse cx="572.9" cy="515.0" rx="2.3" ry="2.1" fill="#141414"/>
<ellipse cx="571.2" cy="485.4" rx="2.3" ry="2.1" fill="#141414"/>
<ellipse cx="574.0" cy="482.6" rx="2.3" ry="2.1" fill="#141414"/>
<ellipse cx="574.6" cy="488.3" rx="2.3" ry="2.1" fill="#141414"/>
<ellipse cx="579.7" cy="481.5" rx="2.3" ry="2.1" fill="#141414"/>
<ellipse cx="584.3" cy="484.3" rx="2.3" ry="2.1" fill="#141414"/>
<ellipse cx="584.3" cy="488.3" rx="2.3" ry="2.1" fill="#141414"/>
<ellipse cx="586.0" cy="480.3" rx="2.3" ry="2.1" fill="#141414"/>
<ellipse cx="593.9" cy="486.6" rx="2.3" ry="2.1" fill="#141414"/>
<ellipse cx="596.2" cy="482.0" rx="2.3" ry="2.1" fill="#141414"/>
<ellipse cx="599.0" cy="483.2" rx="2.3" ry="2.1" fill="#141414"/>
<ellipse cx="608.1" cy="481.5" rx="2.3" ry="2.1" fill="#141414"/>
<ellipse cx="608.1" cy="487.1" rx="2.3" ry="2.1" fill="#141414"/>
<ellipse cx="612.7" cy="480.9" rx="2.3" ry="2.1" fill="#141414"/>
<ellipse cx="612.7" cy="485.4" rx="2.3" ry="2.1" fill="#141414"/>
<ellipse cx="621.7" cy="482.6" rx="2.3" ry="2.1" fill="#141414"/>
<ellipse cx="621.7" cy="486.6" rx="2.3" ry="2.1" fill="#141414"/>
<ellipse cx="626.3" cy="481.5" rx="2.3" ry="2.1" fill="#141414"/>
<ellipse cx="626.3" cy="485.4" rx="2.3" ry="2.1" fill="#141414"/>
<ellipse cx="634.2" cy="483.2" rx="2.3" ry="2.1" fill="#141414"/>
<ellipse cx="634.8" cy="486.6" rx="2.3" ry="2.1" fill="#141414"/>
<ellipse cx="637.6" cy="480.9" rx="2.3" ry="2.1" fill="#141414"/>
<ellipse cx="646.2" cy="483.7" rx="2.3" ry="2.1" fill="#141414"/>
<ellipse cx="646.7" cy="486.6" rx="2.3" ry="2.1" fill="#141414"/>
<ellipse cx="649.6" cy="484.9" rx="2.3" ry="2.1" fill="#141414"/>
<ellipse cx="578.6" cy="505.3" rx="2.3" ry="2.1" fill="#141414"/>
<ellipse cx="579.7" cy="512.1" rx="2.3" ry="2.1" fill="#141414"/>
<ellipse cx="589.9" cy="515.0" rx="2.3" ry="2.1" fill="#141414"/>
<ellipse cx="592.2" cy="521.8" rx="2.3" ry="2.1" fill="#141414"/>
<ellipse cx="601.9" cy="524.0" rx="2.3" ry="2.1" fill="#141414"/>
<ellipse cx="580.9" cy="519.5" rx="2.3" ry="2.1" fill="#141414"/>
<ellipse cx="584.8" cy="524.6" rx="2.3" ry="2.1" fill="#141414"/>
<ellipse cx="585.4" cy="531.4" rx="2.3" ry="2.1" fill="#141414"/>
<ellipse cx="603.6" cy="530.9" rx="2.3" ry="2.1" fill="#141414"/>
<ellipse cx="595.6" cy="534.8" rx="2.3" ry="2.1" fill="#141414"/>
<ellipse cx="612.7" cy="533.7" rx="2.3" ry="2.1" fill="#141414"/>
<ellipse cx="596.2" cy="541.6" rx="2.3" ry="2.1" fill="#141414"/>
<ellipse cx="614.9" cy="541.1" rx="2.3" ry="2.1" fill="#141414"/>
<ellipse cx="607.0" cy="545.1" rx="2.3" ry="2.1" fill="#141414"/>
<ellipse cx="603.6" cy="501.3" rx="2.3" ry="2.1" fill="#141414"/>
<ellipse cx="596.8" cy="504.2" rx="2.3" ry="2.1" fill="#141414"/>
<ellipse cx="599.0" cy="508.7" rx="2.3" ry="2.1" fill="#141414"/>
<ellipse cx="608.1" cy="511.0" rx="2.3" ry="2.1" fill="#141414"/>
<ellipse cx="609.8" cy="515.5" rx="2.3" ry="2.1" fill="#141414"/>
<ellipse cx="612.7" cy="502.5" rx="2.3" ry="2.1" fill="#141414"/>
<ellipse cx="614.9" cy="507.0" rx="2.3" ry="2.1" fill="#141414"/>
<ellipse cx="624.0" cy="508.7" rx="2.3" ry="2.1" fill="#141414"/>
<ellipse cx="619.5" cy="517.8" rx="2.3" ry="2.1" fill="#141414"/>
<ellipse cx="626.9" cy="513.8" rx="2.3" ry="2.1" fill="#141414"/>
<ellipse cx="621.7" cy="522.3" rx="2.3" ry="2.1" fill="#141414"/>
<ellipse cx="636.5" cy="516.1" rx="2.3" ry="2.1" fill="#141414"/>
<ellipse cx="632.0" cy="524.6" rx="2.3" ry="2.1" fill="#141414"/>
<ellipse cx="639.3" cy="521.2" rx="2.3" ry="2.1" fill="#141414"/>
<ellipse cx="634.2" cy="530.3" rx="2.3" ry="2.1" fill="#141414"/>
<ellipse cx="649.0" cy="523.5" rx="2.3" ry="2.1" fill="#141414"/>
<ellipse cx="645.0" cy="532.6" rx="2.3" ry="2.1" fill="#141414"/>
<ellipse cx="652.4" cy="528.6" rx="2.3" ry="2.1" fill="#141414"/>
<ellipse cx="647.3" cy="537.7" rx="2.3" ry="2.1" fill="#141414"/>
<ellipse cx="662.1" cy="530.3" rx="2.3" ry="2.1" fill="#141414"/>
<ellipse cx="658.1" cy="539.9" rx="2.3" ry="2.1" fill="#141414"/>
<ellipse cx="666.0" cy="536.5" rx="2.3" ry="2.1" fill="#141414"/>
<circle cx="557.0" cy="524.6" r="4" fill="#1fa0a6"/><ellipse cx="557.6" cy="523.8" rx="1.8" ry="1.2" fill="#7fe0e0"/>
<circle cx="571.5" cy="524.0" r="3.8" fill="#c22a2a"/><ellipse cx="572.0" cy="524.0" rx="1.6" ry="1.1" fill="#5a1010"/>
</g>
<text x="589" y="617" font-size="15.2" fill="#fafafa" text-anchor="middle" font-weight="bold" filter="url(#tglow)">High quantum yield</text>
<text x="589" y="637.5" font-size="15.2" fill="#fafafa" text-anchor="middle" font-weight="bold" filter="url(#tglow)">LEDs</text>
</g>
<g id="panel-b">
<text x="607.9" y="47.8" font-size="47.5" fill="#000" text-anchor="middle" font-weight="normal" >b</text>
<text x="873.5" y="74.3" font-size="31" fill="#111" stroke="#111" stroke-width="0.3">Graphene/<tspan font-style="italic">h</tspan>-BN</text>
<line x1="860" y1="91" x2="1104.5" y2="91" stroke="#444" stroke-width="1.6"/>
<circle cx="860.2" cy="91" r="6.3" fill="url(#atomDark)"/>
<circle cx="880.6" cy="91" r="6.3" fill="url(#atomDark)"/>
<circle cx="900.9" cy="91" r="6.3" fill="url(#atomDark)"/>
<circle cx="921.3" cy="91" r="6.3" fill="url(#atomDark)"/>
<circle cx="941.6" cy="91" r="6.3" fill="url(#atomDark)"/>
<circle cx="962.0" cy="91" r="6.3" fill="url(#atomDark)"/>
<circle cx="982.4" cy="91" r="6.3" fill="url(#atomDark)"/>
<circle cx="1002.7" cy="91" r="6.3" fill="url(#atomDark)"/>
<circle cx="1023.1" cy="91" r="6.3" fill="url(#atomDark)"/>
<circle cx="1043.4" cy="91" r="6.3" fill="url(#atomDark)"/>
<circle cx="1063.8" cy="91" r="6.3" fill="url(#atomDark)"/>
<circle cx="1084.2" cy="91" r="6.3" fill="url(#atomDark)"/>
<circle cx="1104.5" cy="91" r="6.3" fill="url(#atomDark)"/>
<line x1="862" y1="111.6" x2="1105.5" y2="111.6" stroke="#6aa84f" stroke-width="1.6"/>
<circle cx="861.9" cy="111.6" r="6.2" fill="url(#atomGreen)"/>
<circle cx="882.2" cy="111.6" r="6.2" fill="url(#atomGreen)"/>
<circle cx="902.5" cy="111.6" r="6.2" fill="url(#atomGreen)"/>
<circle cx="922.9" cy="111.6" r="6.2" fill="url(#atomGreen)"/>
<circle cx="943.2" cy="111.6" r="6.2" fill="url(#atomGreen)"/>
<circle cx="963.5" cy="111.6" r="6.2" fill="url(#atomGreen)"/>
<circle cx="983.8" cy="111.6" r="6.2" fill="url(#atomGreen)"/>
<circle cx="1004.1" cy="111.6" r="6.2" fill="url(#atomGreen)"/>
<circle cx="1024.5" cy="111.6" r="6.2" fill="url(#atomGreen)"/>
<circle cx="1044.8" cy="111.6" r="6.2" fill="url(#atomGreen)"/>
<circle cx="1065.1" cy="111.6" r="6.2" fill="url(#atomGreen)"/>
<circle cx="1085.4" cy="111.6" r="6.2" fill="url(#atomGreen)"/>
<circle cx="1105.7" cy="111.6" r="6.2" fill="url(#atomGreen)"/>
<text x="749.5" y="144.4" font-size="30.5" fill="#111" text-anchor="start" font-weight="normal" stroke="#111" stroke-width="0.3">PTCDA</text>
<line x1="860.7" y1="135" x2="946.7" y2="135" stroke="#5a9bd0" stroke-width="1.6"/>
<circle cx="860.7" cy="135" r="3.1" fill="#5a9bd0"/>
<circle cx="946.7" cy="135" r="3.1" fill="#5a9bd0"/>
<circle cx="873.1" cy="135" r="6.6" fill="url(#atomRed)"/>
<circle cx="888.5" cy="135" r="5.7" fill="url(#atomDark)"/>
<circle cx="903.8" cy="135" r="6.6" fill="url(#atomRed)"/>
<circle cx="919.1" cy="135" r="5.7" fill="url(#atomDark)"/>
<circle cx="934.5" cy="135" r="6.6" fill="url(#atomRed)"/>
<line x1="960.2" y1="135" x2="1046.2" y2="135" stroke="#5a9bd0" stroke-width="1.6"/>
<circle cx="960.2" cy="135" r="3.1" fill="#5a9bd0"/>
<circle cx="1046.2" cy="135" r="3.1" fill="#5a9bd0"/>
<circle cx="972.6" cy="135" r="6.6" fill="url(#atomRed)"/>
<circle cx="988.0" cy="135" r="5.7" fill="url(#atomDark)"/>
<circle cx="1003.3" cy="135" r="6.6" fill="url(#atomRed)"/>
<circle cx="1018.6" cy="135" r="5.7" fill="url(#atomDark)"/>
<circle cx="1034.0" cy="135" r="6.6" fill="url(#atomRed)"/>
<rect x="856.4" y="151.9" width="194.6" height="28.4" rx="5" fill="#fabf90"/>
<rect x="810.4" y="180.5" width="334" height="30.5" fill="#e6e6e7"/>
<rect x="810.4" y="210.6" width="335.2" height="39.6" fill="url(#gSi)"/>
<rect x="1092" y="120.5" width="51.5" height="60.3" rx="5" fill="url(#gAu)"/>
<polyline points="1131,121 1131,107 1170,107 1170,232.7 1145.5,232.7" fill="none" stroke="#0a0a0a" stroke-width="5.6" stroke-linejoin="round" stroke-linecap="round"/>
<circle cx="1170" cy="169.3" r="16.8" fill="#fff" stroke="#111" stroke-width="2.3"/>
<text x="1170.3" y="180.8" font-size="31" fill="#333" text-anchor="middle">~</text>
<text x="873.6" y="177" font-size="25.8" fill="#151515" text-anchor="start" font-weight="normal" stroke="#151515" stroke-width="0.3">BN</text>
<text x="873.6" y="201.9" font-size="25.8" fill="#151515" stroke="#151515" stroke-width="0.3">SiO<tspan font-size="15.5" dy="8.3">2</tspan></text>
<text x="873.6" y="236.7" font-size="25.8" fill="#151515" text-anchor="start" font-weight="normal" stroke="#151515" stroke-width="0.3">Si</text>
<text x="1099.3" y="160.8" font-size="30" fill="#111" text-anchor="start" font-weight="normal" stroke="#111" stroke-width="0.4">Au</text>
<g clip-path="url(#clipPhotoB)">
<rect x="784.1" y="270.9" width="389.1" height="303.7" fill="url(#gPhotoB)"/>
<rect x="976.7" y="349" width="200" height="213" fill="#8c5c57" filter="url(#blurB1)"/>
<polygon points="835.9,373.6 941.5,356.5 943.8,347.5 988.1,347.5 1035.8,370.2 1038.1,387.2 1046.0,405.4 1049.4,437.2 1025.6,462.2 890.4,489.4 860.9,506.5 855.2,487.2" fill="#12162a" filter="url(#blurB2)"/>
<polygon points="842.2,379.9 981.3,359.3 982.4,468.5 892.7,484.9 883.6,476.9 883.6,490.6 865.0,499.0" fill="url(#gFlakeB)" filter="url(#blurB1)"/>
<polygon points="842.2,379.9 981.3,359.3 982.4,468.5 892.7,484.9 883.6,476.9 883.6,490.6 865.0,499.0" fill="#6c8aba" opacity="0.6" filter="url(#noiseB)"/>
<polygon points="982.4,360.0 989.2,353.6 1030.1,372.7 1032.6,389.0 1041.7,408.8 1044.4,436.1 1023.3,456.7 982.4,465.8" fill="#6b4346" filter="url(#blurB2)"/>
<polygon points="933.6,374.7 959.7,366.8 975.6,367.9 980.1,387.2 973.3,411.1 949.5,402.0 939.2,389.5" fill="#7f7dcc" filter="url(#blurB2)"/>
<ellipse cx="926.7" cy="405.4" rx="5" ry="7" fill="#2c3e6a" filter="url(#blurB1)"/>
<ellipse cx="1009.7" cy="381.5" rx="3" ry="7" fill="#5a3036" filter="url(#blurB1)"/>
</g>
<line x1="990.8" y1="334.5" x2="966.1" y2="360.4" stroke="#fff" stroke-width="1.8"/>
<polygon points="963.1,363.4 972.6,359.4 967.1,353.9" fill="#fff"/>
<text x="974.3" y="315.9" font-size="31.2" fill="#fbf8ff" text-anchor="start" font-weight="normal" stroke="#fbf8ff" stroke-width="0.4">ML PTCDA</text>
<text x="819.6" y="454.3" font-size="31" fill="#fbf8ff" stroke="#fbf8ff" stroke-width="0.4">Graphene/<tspan font-style="italic">h</tspan>-BN</text>
<text x="1030.2" y="472" font-size="46" fill="#111" text-anchor="start" font-weight="normal" >g</text>
<text x="1045.8" y="527.2" font-size="30.6" fill="#fbf8ff" text-anchor="start" font-weight="normal" stroke="#fbf8ff" stroke-width="0.4">Au pad</text>
<rect x="801.3" y="554.6" width="114.2" height="6.4" fill="#fff"/>
</g>
<g id="panel-c">
<text x="1200.8" y="38.8" font-size="47.5" fill="#000" text-anchor="middle" font-weight="normal" >c</text>
<g clip-path="url(#clipPhotoC)">
<rect x="1235.7" y="29.7" width="525" height="338.6" fill="url(#gDarkC)"/>
<rect x="1235.7" y="29.7" width="525" height="338.6" fill="#585a80" opacity="0.08" filter="url(#noiseC)"/>
<polygon points="1299.4,208.4 1377.5,169.0 1535.0,189.3 1535.0,262.0 1354.8,308.9 1327.5,301.4" fill="url(#gFlakeC)" filter="url(#blurC1)"/>
<polygon points="1299.4,208.4 1327.5,203.8 1353.3,308.3 1327.5,301.4" fill="#2f7396" opacity="0.7" filter="url(#blurC1)"/>
<polygon points="1329.0,291.7 1356.3,282.6 1357.8,305.3 1329.0,302.3" fill="#3fa0a8" opacity="0.7" filter="url(#blurC1)"/>
<polygon points="1392.6,143.9 1462.3,145.7 1462.3,156.0 1393.2,153.6" fill="#3e9aa6" filter="url(#blurC1)"/>
<circle cx="1396.3" cy="148.7" r="3" fill="#a8d860" filter="url(#blurC1)"/>
<polygon points="1491.1,159.0 1538.0,160.2 1538.0,166.9 1491.7,165.7" fill="#3a9ab0" filter="url(#blurC1)"/>
<circle cx="1331.2" cy="167.5" r="2.2" fill="#3a7a90" filter="url(#blurC1)"/>
<polygon points="1537.1,28.2 1762.1,28.2 1762.1,370.4 1533.5,370.4 1534.4,282.6 1535.9,161.4" fill="url(#gGoldC)"/>
<polyline points="1537.1,28.2 1535.9,161.4 1534.4,282.6 1533.5,370.4" fill="none" stroke="#5a3038" stroke-width="4.5" opacity="0.8" filter="url(#blurC1)"/>
<g filter="url(#blurC05)">
<polyline points="1544.1,28.2 1543.2,161.4 1541.6,282.6 1541.0,370.4" fill="none" stroke="#e6be6a" stroke-width="3" opacity="0.35"/>
<polyline points="1538.0,188.1 1613.7,194.1 1747.0,207.5" fill="none" stroke="#e9c068" stroke-width="1.8" opacity="0.8"/>
<polyline points="1538.0,189.9 1613.7,196.0 1747.0,209.3" fill="none" stroke="#b88a38" stroke-width="1.2" opacity="0.7"/>
<polyline points="1538.0,283.5 1598.6,257.7 1674.3,233.5 1747.0,209.9" fill="none" stroke="#ecc46c" stroke-width="2" opacity="0.8"/>
<polyline points="1538.0,285.6 1598.6,259.9 1674.3,235.6 1747.0,211.7" fill="none" stroke="#b88a38" stroke-width="1.2" opacity="0.6"/>
<polyline points="1538.0,276.5 1568.3,267.4 1610.7,252.3" fill="none" stroke="#f0b848" stroke-width="2.6" opacity="0.9"/>
<polygon points="1591.0,193.2 1641.0,197.2 1630.4,209.9 1622.8,223.5 1613.7,225.6 1607.7,219.0 1609.2,203.8" fill="#efc264" stroke="#b4863a" stroke-width="1"/>
<polygon points="1613.7,200.2 1628.9,201.4 1621.3,219.0 1615.2,216.6" fill="#c89a52"/>
<polygon points="1680.4,202.6 1748.5,209.3 1710.6,222.0 1701.6,225.6 1700.0,210.5 1681.9,210.5" fill="#efc264" stroke="#b4863a" stroke-width="1"/>
<polygon points="1704.6,211.1 1734.9,212.3 1708.2,222.0" fill="#c8a058"/>
<polyline points="1762.1,144.2 1735.8,161.4 1762.1,181.7" fill="none" stroke="#f0c560" stroke-width="3.2"/>
<polyline points="1762.1,148.1 1740.9,161.4 1762.1,177.2" fill="none" stroke="#9a7030" stroke-width="1.6"/>
<polyline points="1541.0,160.8 1556.2,159.3 1571.3,163.9 1585.0,167.5" fill="none" stroke="#f0c868" stroke-width="3" stroke-dasharray="7 3"/>
<polyline points="1541.0,164.5 1556.2,162.9 1571.3,167.5 1585.0,171.1" fill="none" stroke="#9a7030" stroke-width="1.6" stroke-dasharray="5 5"/>
</g>
<circle cx="1613.7" cy="106.3" r="2.6" fill="#4a3a20" filter="url(#blurC05)"/>
<circle cx="1678.8" cy="225.6" r="1.6" fill="#7a5a28" filter="url(#blurC05)"/>
<circle cx="1691.0" cy="237.1" r="1.4" fill="#8a6a30" filter="url(#blurC05)"/>
<circle cx="1677.3" cy="288.6" r="2" fill="#c09848" filter="url(#blurC05)"/>
<circle cx="1535.0" cy="305.3" r="2" fill="#6a3030" filter="url(#blurC05)"/>
<circle cx="1562.2" cy="268.9" r="1.5" fill="#8a6028" filter="url(#blurC05)"/>
<circle cx="1663.7" cy="67.5" r="2.5" fill="#cfa04c" filter="url(#blurC05)"/>
</g>
<text x="1380" y="238.7" font-size="31" fill="#fff" text-anchor="start" font-weight="normal" textLength="29" lengthAdjust="spacingAndGlyphs" stroke="#fff" stroke-width="0.4">1L</text>
<text x="1603.3" y="160.3" font-size="28.5" fill="#111" text-anchor="start" font-weight="normal" textLength="34.5" lengthAdjust="spacingAndGlyphs" stroke="#111" stroke-width="0.5">Au</text>
<text x="1675.5" y="350.7" font-size="25" fill="#fff" text-anchor="start" font-weight="normal" textLength="56.5" lengthAdjust="spacingAndGlyphs" stroke="#fff" stroke-width="0.4">5 µm</text>
<rect x="1657.6" y="358.3" width="95.5" height="6" fill="#fff"/>
<polygon points="1246,561 1446,676 1769,516 1769,512 1446,671 1246,557" fill="#7a8cff" opacity="0.8" filter="url(#blurC1)"/>
<polygon points="1269.8,535.3 1560,395 1769,498 1446,632" fill="#a556de"/>
<polygon points="1246,553 1269.8,535.3 1446,632 1446,673.5 1248,560.5" fill="url(#gMag)" stroke="url(#gMag)" stroke-width="1" stroke-linejoin="round"/>
<polygon points="1446,632 1456,621 1600,556 1700,480 1769,497.5 1769,513 1446,673.5" fill="url(#gSideC)"/>
<polygon points="1446,632 1769,497.5 1769,513 1446,673.5" fill="url(#gSideC)" stroke="#651f9e" stroke-width="1" stroke-linejoin="round"/>
<polygon points="1302.6,533 1340,514 1600,548 1591.2,558 1455.4,619.5" fill="#c6c6c8"/>
<polygon points="1455.4,619.5 1591.2,558 1591.2,561 1455.4,623.5" fill="#8c8c90"/>
<polygon points="1302.6,533 1455.4,619.5 1455.4,623.5 1302.6,536" fill="#cfcfd2"/>
<polygon points="1335.5,514.9 1375,495 1590,540 1582.2,551.1 1480.3,591.8" fill="#8fcb60"/>
<polygon points="1335.5,514.9 1480.3,591.8 1480.3,599 1335.5,521" fill="#f2fb98"/>
<polygon points="1480.3,591.8 1582.2,551.1 1582.2,556.5 1480.3,599" fill="#5b9b3b"/>
<polygon points="1371.7,494.5 1425,465 1570,530 1566.3,542 1505.2,567" fill="#6b9fe8"/>
<polygon points="1371.7,494.5 1505.2,567 1505.2,574 1371.7,500.5" fill="#84eaff"/>
<polygon points="1505.2,567 1566.3,542 1566.3,548.5 1505.2,574" fill="#3b6ec6"/>
<polygon points="1426.4,452.8 1565,381.5 1572,381 1758.1,484.1 1758.1,493.5 1614.2,563.5 1426.4,461.5" fill="url(#gAuEdge)" stroke="#f3d85a" stroke-width="1.5" stroke-linejoin="round"/>
<polygon points="1427.5,452.3 1566,381.5 1571,381.2 1757,484.1 1614.2,554.3" fill="#fef780"/>
<polyline points="1426.4,462 1614.2,564 1758.1,493.8" fill="none" stroke="#5a4a18" stroke-width="1.2" opacity="0.55"/>
<polyline points="1600,433.5 1783.4,433.5 1783.4,563" fill="none" stroke="#555" stroke-width="1.4"/>
<line x1="1743.3" y1="563.7" x2="1820.5" y2="563.7" stroke="#555" stroke-width="1.6"/>
<line x1="1755.6" y1="573.6" x2="1812.5" y2="573.6" stroke="#555" stroke-width="1.6"/>
<line x1="1764.4" y1="583.4" x2="1802" y2="583.4" stroke="#555" stroke-width="1.6"/>
<line x1="1259.4" y1="566" x2="1259.4" y2="606" stroke="#666" stroke-width="1.3"/>
<line x1="1254" y1="664" x2="1253" y2="711" stroke="#666" stroke-width="1.3"/>
<circle cx="1257.2" cy="635" r="29.6" fill="#fff" stroke="#111" stroke-width="2"/>
<text x="1245" y="641.5" font-size="25" fill="#333" font-family="'Liberation Serif', serif">V<tspan font-size="17" dy="6.5">g</tspan></text>
<line x1="1215.8" y1="711.5" x2="1293" y2="711.5" stroke="#555" stroke-width="1.6"/>
<line x1="1228" y1="721.7" x2="1284.2" y2="721.7" stroke="#555" stroke-width="1.6"/>
<line x1="1236.9" y1="731.5" x2="1274.4" y2="731.5" stroke="#555" stroke-width="1.6"/>
<text transform="translate(1503.3,478) rotate(28)" font-size="16" font-weight="bold" fill="#1a1608" stroke="#1a1608" stroke-width="0.7">Au</text>
<text transform="translate(1425.5,513.8) rotate(28)" font-size="14.2" font-weight="bold" fill="#0e1c3c" stroke="#0e1c3c" stroke-width="0.7" textLength="62" lengthAdjust="spacingAndGlyphs">1 L PEN</text>
<text transform="translate(1400.2,540.3) rotate(28)" font-size="14.2" font-weight="bold" fill="#15300c" stroke="#15300c" stroke-width="0.7" textLength="60" lengthAdjust="spacingAndGlyphs">WL PEN</text>
<text transform="translate(1385.2,567.6) rotate(28)" font-size="14.2" font-weight="bold" fill="#222" stroke="#222" stroke-width="0.7">hBN</text>
<text transform="translate(1317.6,583.8) rotate(28)" font-size="14.6" font-weight="bold" fill="#4a0a58" stroke="#4a0a58" stroke-width="0.6" textLength="67" lengthAdjust="spacingAndGlyphs">SiO<tspan font-size="10" dy="3">2</tspan><tspan dy="-3"> / Si</tspan></text>
</g>
<g id="panel-d">
<text x="21.1" y="877" font-size="47.5" fill="#000" text-anchor="middle" font-weight="normal" >d</text>
<g clip-path="url(#clipD)">
<polyline points="205.4,1305.4 206.6,1303.3 207.7,1302.4 208.9,1301.7 210.0,1301.3 211.2,1302.6 212.4,1300.5 213.5,1300.4 214.7,1299.7 215.8,1297.6 217.0,1297.5 218.2,1293.6 219.3,1292.0 220.5,1290.8 221.6,1289.4 222.8,1288.2 224.0,1287.1 225.1,1285.3 226.3,1285.0 227.4,1283.3 228.6,1281.8 229.7,1279.8 230.9,1280.0 232.1,1278.1 233.2,1277.0 234.4,1275.0 235.5,1273.5 236.7,1272.4 237.9,1271.1 239.0,1269.9 240.2,1267.8 241.3,1267.3 242.5,1266.3 243.7,1266.8 244.8,1266.0 246.0,1264.2 247.1,1262.6 248.3,1263.4 249.5,1262.5 250.6,1262.0 251.8,1261.0 252.9,1260.7 254.1,1260.2 255.3,1259.3 256.4,1258.4 257.6,1256.8 258.7,1257.5 259.9,1257.8 261.1,1256.0 262.2,1255.0 263.4,1255.0 264.5,1255.7 265.7,1253.7 266.8,1254.5 268.0,1252.6 269.2,1252.2 270.3,1252.2 271.5,1252.0 272.6,1250.7 273.8,1250.6 275.0,1252.0 276.1,1251.6 277.3,1252.6 278.4,1250.5 279.6,1248.6 280.8,1247.2 281.9,1248.6 283.1,1245.8 284.2,1244.4 285.4,1245.3 286.6,1247.5 287.7,1247.4 288.9,1245.2 290.0,1242.9 291.2,1244.0 292.4,1245.7 293.5,1245.6 294.7,1242.5 295.8,1242.5 297.0,1243.7 298.2,1244.9 299.3,1242.7 300.5,1241.2 301.6,1241.5 302.8,1241.2 303.9,1240.6 305.1,1240.6 306.3,1240.6 307.4,1240.5 308.6,1240.4 309.7,1238.4 310.9,1237.9 312.1,1237.0 313.2,1235.5 314.4,1238.6 315.5,1238.0 316.7,1236.6 317.9,1236.8 319.0,1237.3 320.2,1236.4 321.3,1236.7 322.5,1237.1 323.7,1236.7 324.8,1236.0 326.0,1235.6 327.1,1234.4 328.3,1234.6 329.5,1235.1 330.6,1231.8 331.8,1233.1 332.9,1233.8 334.1,1234.0 335.3,1234.6 336.4,1235.8 337.6,1234.6 338.7,1232.7 339.9,1234.9 341.0,1235.0 342.2,1234.0 343.4,1234.5 344.5,1233.6 345.7,1233.7 346.8,1234.9 348.0,1234.7 349.2,1234.9 350.3,1234.1 351.5,1236.8 352.6,1235.5 353.8,1233.9 355.0,1234.4 356.1,1234.7 357.3,1235.7 358.4,1235.6 359.6,1236.2 360.8,1237.8 361.9,1238.7 363.1,1240.6 364.2,1239.1 365.4,1238.7 366.6,1237.8 367.7,1238.4 368.9,1238.5 370.0,1240.7 371.2,1242.7 372.4,1242.8 373.5,1242.7 374.7,1242.3 375.8,1242.7 377.0,1243.2 378.2,1243.4 379.3,1243.6 380.5,1243.9 381.6,1244.1 382.8,1245.2 383.9,1245.6 385.1,1247.3 386.3,1248.0 387.4,1247.6 388.6,1246.8 389.7,1247.5 390.9,1248.6 392.1,1246.9 393.2,1247.6 394.4,1248.8 395.5,1248.5 396.7,1248.3 397.9,1249.2 399.0,1247.3 400.2,1243.9 401.3,1244.0 402.5,1243.7 403.7,1241.2 404.8,1240.4 406.0,1239.7 407.1,1237.4 408.3,1238.3 409.5,1237.3 410.6,1235.9 411.8,1235.2 412.9,1236.0 414.1,1236.1 415.3,1233.5 416.4,1234.0 417.6,1234.5 418.7,1233.5 419.9,1236.0 421.0,1235.8 422.2,1237.5 423.4,1235.4 424.5,1236.6 425.7,1236.2 426.8,1236.9 428.0,1236.0 429.2,1235.1 430.3,1234.5 431.5,1234.0 432.6,1232.5 433.8,1231.5 435.0,1230.4 436.1,1227.7 437.3,1224.8 438.4,1224.2 439.6,1222.1 440.8,1219.1 441.9,1214.7 443.1,1212.0 444.2,1205.5 445.4,1201.3 446.6,1196.7 447.7,1191.4 448.9,1188.4 450.0,1184.3 451.2,1181.5 452.4,1179.3 453.5,1181.4 454.7,1181.6 455.8,1184.1 457.0,1187.9 458.1,1191.4 459.3,1196.9 460.5,1202.2 461.6,1206.3 462.8,1212.0 463.9,1215.9 465.1,1219.7 466.3,1224.8 467.4,1229.4 468.6,1234.5 469.7,1239.1 470.9,1240.7 472.1,1245.4 473.2,1248.2 474.4,1251.0 475.5,1254.9 476.7,1258.0 477.9,1260.8 479.0,1260.6 480.2,1263.2 481.3,1264.6 482.5,1265.6 483.7,1268.0 484.8,1269.8 486.0,1273.4 487.1,1276.3 488.3,1276.5 489.5,1277.3 490.6,1280.8 491.8,1281.3 492.9,1283.0 494.1,1284.0 495.2,1284.9 496.4,1285.1 497.6,1288.1 498.7,1289.7 499.9,1289.8 501.0,1291.8 502.2,1292.5 503.4,1293.9 504.5,1296.7 505.7,1297.5 506.8,1296.9 508.0,1298.3 509.2,1300.4 510.3,1300.8 511.5,1300.8 512.6,1300.5 513.8,1300.8 515.0,1301.0 516.1,1302.8 517.3,1303.6 518.4,1304.4 519.6,1304.7 520.8,1304.2 521.9,1303.2 523.1,1304.4 524.2,1303.9 525.4,1303.8 526.6,1306.0 527.7,1307.1 528.9,1306.9 530.0,1308.4 531.2,1306.1 532.4,1308.7 533.5,1309.6 534.7,1308.3 535.8,1309.1 537.0,1308.3 538.1,1309.6 539.3,1308.5 540.5,1309.6 541.6,1309.0 542.8,1308.5 543.9,1310.8 545.1,1311.6 546.3,1312.9 547.4,1313.2 548.6,1311.4 549.7,1311.4 550.9,1310.7 552.1,1309.8 553.2,1309.8 554.4,1310.2 555.5,1311.7 556.7,1312.5 557.9,1312.4 559.0,1311.8 560.2,1311.4 561.3,1312.1 562.5,1313.1 563.7,1313.5 564.8,1312.2 566.0,1312.9 567.1,1311.6 568.3,1313.7 569.5,1313.4 570.6,1313.9 571.8,1313.8 572.9,1315.3 574.1,1315.1" fill="none" stroke="#2a1c9a" stroke-width="1.5" stroke-linejoin="round"/>
<polyline points="205.4,1308.0 206.6,1306.0 207.7,1303.8 208.9,1303.6 210.0,1303.8 211.2,1302.1 212.4,1300.2 213.5,1298.0 214.7,1298.4 215.8,1298.3 217.0,1295.6 218.2,1293.8 219.3,1291.2 220.5,1289.8 221.6,1289.4 222.8,1288.8 224.0,1285.0 225.1,1285.2 226.3,1285.1 227.4,1284.8 228.6,1282.8 229.7,1281.1 230.9,1280.0 232.1,1278.6 233.2,1276.9 234.4,1275.0 235.5,1273.1 236.7,1272.4 237.9,1273.5 239.0,1271.1 240.2,1271.4 241.3,1269.9 242.5,1270.0 243.7,1268.2 244.8,1267.5 246.0,1265.9 247.1,1261.6 248.3,1262.2 249.5,1261.3 250.6,1262.7 251.8,1262.1 252.9,1260.5 254.1,1260.2 255.3,1259.3 256.4,1258.8 257.6,1259.4 258.7,1258.0 259.9,1258.4 261.1,1255.7 262.2,1256.4 263.4,1255.4 264.5,1255.3 265.7,1254.2 266.8,1254.9 268.0,1253.5 269.2,1253.7 270.3,1252.3 271.5,1251.9 272.6,1252.0 273.8,1252.8 275.0,1251.5 276.1,1251.0 277.3,1249.3 278.4,1250.2 279.6,1249.6 280.8,1249.2 281.9,1249.0 283.1,1248.8 284.2,1248.5 285.4,1249.0 286.6,1249.5 287.7,1249.0 288.9,1247.6 290.0,1245.8 291.2,1245.1 292.4,1244.5 293.5,1244.3 294.7,1244.1 295.8,1244.3 297.0,1243.8 298.2,1242.3 299.3,1243.4 300.5,1244.3 301.6,1242.0 302.8,1242.3 303.9,1241.6 305.1,1241.2 306.3,1242.8 307.4,1240.1 308.6,1239.1 309.7,1240.1 310.9,1239.9 312.1,1240.3 313.2,1241.4 314.4,1241.1 315.5,1240.4 316.7,1239.1 317.9,1238.7 319.0,1239.1 320.2,1237.9 321.3,1239.2 322.5,1238.3 323.7,1237.4 324.8,1238.2 326.0,1240.0 327.1,1240.1 328.3,1238.9 329.5,1237.9 330.6,1236.3 331.8,1237.8 332.9,1237.6 334.1,1236.7 335.3,1237.0 336.4,1239.3 337.6,1237.3 338.7,1234.8 339.9,1234.6 341.0,1236.4 342.2,1236.9 343.4,1236.5 344.5,1234.1 345.7,1234.6 346.8,1235.4 348.0,1234.5 349.2,1235.6 350.3,1234.4 351.5,1236.3 352.6,1237.2 353.8,1236.6 355.0,1235.7 356.1,1236.0 357.3,1236.7 358.4,1239.2 359.6,1239.6 360.8,1239.9 361.9,1240.1 363.1,1239.3 364.2,1239.9 365.4,1239.3 366.6,1239.8 367.7,1240.6 368.9,1240.8 370.0,1240.8 371.2,1240.5 372.4,1241.8 373.5,1242.5 374.7,1244.1 375.8,1242.2 377.0,1241.4 378.2,1242.8 379.3,1243.9 380.5,1245.4 381.6,1245.0 382.8,1244.8 383.9,1242.9 385.1,1243.8 386.3,1245.3 387.4,1247.9 388.6,1245.5 389.7,1245.5 390.9,1247.3 392.1,1246.5 393.2,1247.8 394.4,1243.5 395.5,1243.5 396.7,1243.9 397.9,1244.8 399.0,1247.1 400.2,1246.3 401.3,1247.2 402.5,1245.4 403.7,1246.9 404.8,1246.4 406.0,1243.7 407.1,1241.6 408.3,1242.9 409.5,1243.6 410.6,1241.2 411.8,1239.5 412.9,1239.8 414.1,1239.2 415.3,1238.2 416.4,1237.4 417.6,1235.7 418.7,1232.0 419.9,1229.6 421.0,1225.8 422.2,1224.7 423.4,1222.8 424.5,1221.1 425.7,1217.7 426.8,1215.2 428.0,1212.3 429.2,1206.1 430.3,1199.5 431.5,1193.8 432.6,1187.2 433.8,1181.4 435.0,1175.5 436.1,1167.5 437.3,1159.1 438.4,1150.3 439.6,1140.6 440.8,1129.1 441.9,1114.8 443.1,1099.7 444.2,1084.4 445.4,1066.3 446.6,1049.6 447.7,1032.6 448.9,1016.0 450.0,1004.0 451.2,995.9 452.4,988.9 453.5,989.2 454.7,991.2 455.8,998.2 457.0,1007.3 458.1,1019.1 459.3,1035.3 460.5,1048.5 461.6,1063.9 462.8,1079.0 463.9,1093.2 465.1,1105.7 466.3,1117.9 467.4,1129.6 468.6,1143.4 469.7,1154.3 470.9,1166.1 472.1,1174.1 473.2,1181.3 474.4,1189.6 475.5,1196.0 476.7,1202.3 477.9,1207.4 479.0,1214.4 480.2,1220.3 481.3,1225.5 482.5,1227.7 483.7,1231.2 484.8,1235.9 486.0,1239.6 487.1,1243.1 488.3,1246.2 489.5,1249.5 490.6,1252.5 491.8,1256.1 492.9,1258.4 494.1,1258.2 495.2,1260.0 496.4,1262.2 497.6,1264.4 498.7,1265.9 499.9,1267.1 501.0,1269.2 502.2,1270.1 503.4,1271.0 504.5,1272.9 505.7,1274.3 506.8,1275.7 508.0,1276.9 509.2,1275.9 510.3,1278.9 511.5,1278.8 512.6,1279.6 513.8,1280.4 515.0,1280.5 516.1,1279.9 517.3,1280.8 518.4,1281.9 519.6,1283.3 520.8,1283.8 521.9,1283.3 523.1,1284.6 524.2,1286.3 525.4,1287.6 526.6,1288.3 527.7,1289.2 528.9,1287.5 530.0,1287.5 531.2,1288.2 532.4,1287.1 533.5,1288.8 534.7,1288.5 535.8,1288.5 537.0,1291.0 538.1,1292.5 539.3,1292.9 540.5,1291.4 541.6,1290.4 542.8,1292.5 543.9,1291.5 545.1,1292.6 546.3,1293.3 547.4,1294.0 548.6,1294.2 549.7,1296.0 550.9,1296.3 552.1,1296.8 553.2,1295.5 554.4,1293.4 555.5,1291.7 556.7,1293.9 557.9,1296.5 559.0,1296.9 560.2,1297.7 561.3,1295.4 562.5,1295.6 563.7,1297.1 564.8,1296.4 566.0,1296.5 567.1,1298.8 568.3,1299.1 569.5,1299.1 570.6,1299.0 571.8,1298.9 572.9,1299.4 574.1,1299.2" fill="none" stroke="#b03a5a" stroke-width="1.5" stroke-linejoin="round"/>
<polyline points="205.4,1307.4 206.6,1307.0 207.7,1303.9 208.9,1302.8 210.0,1301.6 211.2,1302.5 212.4,1301.0 213.5,1298.7 214.7,1299.0 215.8,1296.2 217.0,1295.6 218.2,1293.9 219.3,1292.9 220.5,1291.5 221.6,1289.1 222.8,1288.8 224.0,1286.1 225.1,1286.2 226.3,1285.9 227.4,1283.4 228.6,1283.2 229.7,1281.8 230.9,1279.3 232.1,1277.0 233.2,1278.1 234.4,1275.9 235.5,1272.9 236.7,1271.3 237.9,1271.4 239.0,1271.3 240.2,1270.5 241.3,1270.4 242.5,1269.1 243.7,1267.9 244.8,1266.9 246.0,1264.6 247.1,1264.5 248.3,1265.2 249.5,1262.8 250.6,1263.3 251.8,1262.7 252.9,1261.7 254.1,1261.2 255.3,1261.2 256.4,1260.3 257.6,1257.2 258.7,1258.0 259.9,1257.8 261.1,1256.2 262.2,1255.5 263.4,1254.9 264.5,1254.3 265.7,1256.6 266.8,1256.6 268.0,1255.4 269.2,1254.2 270.3,1252.6 271.5,1252.4 272.6,1252.7 273.8,1252.5 275.0,1252.4 276.1,1251.8 277.3,1250.8 278.4,1251.1 279.6,1251.6 280.8,1251.7 281.9,1249.7 283.1,1248.2 284.2,1247.6 285.4,1247.2 286.6,1246.8 287.7,1247.3 288.9,1246.7 290.0,1247.9 291.2,1247.6 292.4,1247.8 293.5,1246.3 294.7,1246.6 295.8,1246.2 297.0,1245.3 298.2,1243.7 299.3,1244.8 300.5,1245.4 301.6,1243.9 302.8,1244.8 303.9,1243.7 305.1,1243.9 306.3,1243.5 307.4,1244.8 308.6,1242.9 309.7,1243.0 310.9,1243.3 312.1,1240.4 313.2,1240.1 314.4,1237.0 315.5,1238.3 316.7,1239.6 317.9,1239.8 319.0,1238.3 320.2,1239.0 321.3,1238.8 322.5,1238.6 323.7,1239.7 324.8,1239.3 326.0,1239.5 327.1,1240.4 328.3,1238.6 329.5,1237.8 330.6,1237.9 331.8,1238.8 332.9,1240.3 334.1,1238.6 335.3,1238.2 336.4,1239.4 337.6,1238.5 338.7,1239.4 339.9,1238.4 341.0,1237.7 342.2,1237.0 343.4,1236.8 344.5,1236.8 345.7,1238.0 346.8,1238.0 348.0,1238.2 349.2,1238.0 350.3,1237.5 351.5,1236.9 352.6,1235.7 353.8,1239.2 355.0,1238.4 356.1,1238.6 357.3,1236.3 358.4,1236.6 359.6,1239.3 360.8,1239.0 361.9,1239.8 363.1,1238.9 364.2,1240.6 365.4,1240.8 366.6,1241.1 367.7,1241.3 368.9,1242.2 370.0,1244.0 371.2,1242.9 372.4,1241.9 373.5,1242.6 374.7,1244.1 375.8,1243.8 377.0,1243.4 378.2,1244.1 379.3,1244.5 380.5,1243.4 381.6,1245.4 382.8,1246.0 383.9,1247.8 385.1,1247.7 386.3,1247.7 387.4,1248.0 388.6,1247.9 389.7,1245.5 390.9,1246.1 392.1,1246.4 393.2,1244.3 394.4,1245.3 395.5,1247.5 396.7,1246.5 397.9,1247.2 399.0,1245.0 400.2,1246.4 401.3,1246.5 402.5,1247.3 403.7,1246.0 404.8,1246.1 406.0,1245.0 407.1,1244.4 408.3,1244.0 409.5,1241.9 410.6,1240.4 411.8,1240.0 412.9,1240.2 414.1,1240.0 415.3,1238.0 416.4,1234.1 417.6,1234.0 418.7,1233.5 419.9,1232.2 421.0,1230.9 422.2,1229.0 423.4,1225.9 424.5,1221.2 425.7,1218.6 426.8,1215.9 428.0,1213.6 429.2,1208.5 430.3,1203.6 431.5,1199.6 432.6,1194.4 433.8,1187.5 435.0,1179.2 436.1,1171.2 437.3,1163.0 438.4,1154.4 439.6,1143.9 440.8,1132.8 441.9,1118.3 443.1,1106.8 444.2,1092.6 445.4,1075.7 446.6,1060.5 447.7,1043.3 448.9,1029.1 450.0,1016.4 451.2,1007.4 452.4,1003.6 453.5,1003.7 454.7,1004.3 455.8,1010.9 457.0,1020.2 458.1,1031.2 459.3,1044.3 460.5,1057.6 461.6,1072.7 462.8,1087.3 463.9,1100.0 465.1,1113.9 466.3,1127.7 467.4,1139.1 468.6,1150.1 469.7,1159.3 470.9,1169.5 472.1,1179.0 473.2,1186.8 474.4,1192.2 475.5,1199.5 476.7,1205.9 477.9,1211.9 479.0,1217.2 480.2,1221.5 481.3,1225.3 482.5,1232.2 483.7,1234.7 484.8,1238.9 486.0,1242.9 487.1,1243.8 488.3,1248.0 489.5,1249.4 490.6,1252.2 491.8,1256.6 492.9,1258.5 494.1,1260.2 495.2,1262.7 496.4,1267.0 497.6,1268.1 498.7,1269.2 499.9,1271.2 501.0,1270.0 502.2,1271.9 503.4,1273.5 504.5,1274.8 505.7,1276.4 506.8,1277.6 508.0,1277.8 509.2,1277.9 510.3,1279.2 511.5,1279.8 512.6,1281.9 513.8,1281.5 515.0,1282.9 516.1,1283.0 517.3,1284.5 518.4,1285.2 519.6,1285.2 520.8,1286.8 521.9,1284.4 523.1,1285.7 524.2,1286.7 525.4,1288.2 526.6,1286.9 527.7,1286.6 528.9,1287.7 530.0,1290.1 531.2,1290.8 532.4,1290.3 533.5,1291.2 534.7,1292.6 535.8,1293.5 537.0,1293.8 538.1,1293.4 539.3,1293.9 540.5,1293.7 541.6,1291.0 542.8,1290.7 543.9,1293.4 545.1,1293.7 546.3,1294.2 547.4,1294.9 548.6,1294.2 549.7,1295.3 550.9,1296.1 552.1,1296.6 553.2,1296.8 554.4,1295.7 555.5,1295.6 556.7,1297.8 557.9,1298.3 559.0,1299.0 560.2,1297.9 561.3,1298.0 562.5,1297.5 563.7,1298.3 564.8,1300.6 566.0,1299.7 567.1,1299.6 568.3,1299.3 569.5,1301.0 570.6,1300.7 571.8,1301.4 572.9,1301.9 574.1,1301.2" fill="none" stroke="#2e8a78" stroke-width="1.5" stroke-linejoin="round"/>
<polyline points="205.4,1308.2 206.6,1305.2 207.7,1303.2 208.9,1303.4 210.0,1300.4 211.2,1300.2 212.4,1298.4 213.5,1297.9 214.7,1297.9 215.8,1297.1 217.0,1295.9 218.2,1294.0 219.3,1292.8 220.5,1289.4 221.6,1289.4 222.8,1289.1 224.0,1288.6 225.1,1287.7 226.3,1287.3 227.4,1286.0 228.6,1282.8 229.7,1281.3 230.9,1280.1 232.1,1278.4 233.2,1276.2 234.4,1274.9 235.5,1273.5 236.7,1273.5 237.9,1272.8 239.0,1272.3 240.2,1271.0 241.3,1270.5 242.5,1269.4 243.7,1268.2 244.8,1267.2 246.0,1266.4 247.1,1265.8 248.3,1263.4 249.5,1263.4 250.6,1263.7 251.8,1262.4 252.9,1262.7 254.1,1262.6 255.3,1261.1 256.4,1261.8 257.6,1263.5 258.7,1260.8 259.9,1258.4 261.1,1259.5 262.2,1259.1 263.4,1257.3 264.5,1258.6 265.7,1258.1 266.8,1257.9 268.0,1256.7 269.2,1257.6 270.3,1255.1 271.5,1254.6 272.6,1253.7 273.8,1253.6 275.0,1255.2 276.1,1253.9 277.3,1254.2 278.4,1252.9 279.6,1252.9 280.8,1252.2 281.9,1251.5 283.1,1250.0 284.2,1249.1 285.4,1250.1 286.6,1249.6 287.7,1247.6 288.9,1247.4 290.0,1248.3 291.2,1248.0 292.4,1248.0 293.5,1246.5 294.7,1246.4 295.8,1245.9 297.0,1243.7 298.2,1245.9 299.3,1246.6 300.5,1247.5 301.6,1247.8 302.8,1245.4 303.9,1244.5 305.1,1242.6 306.3,1245.0 307.4,1245.1 308.6,1242.8 309.7,1241.8 310.9,1241.3 312.1,1240.9 313.2,1241.4 314.4,1241.6 315.5,1241.6 316.7,1240.7 317.9,1241.1 319.0,1240.7 320.2,1239.3 321.3,1241.0 322.5,1241.4 323.7,1240.3 324.8,1240.4 326.0,1240.3 327.1,1237.9 328.3,1238.2 329.5,1239.1 330.6,1238.1 331.8,1236.0 332.9,1238.4 334.1,1239.2 335.3,1238.8 336.4,1239.2 337.6,1236.7 338.7,1236.9 339.9,1237.9 341.0,1237.5 342.2,1238.6 343.4,1239.0 344.5,1238.6 345.7,1236.1 346.8,1239.3 348.0,1238.5 349.2,1237.2 350.3,1237.1 351.5,1236.0 352.6,1236.9 353.8,1237.8 355.0,1238.6 356.1,1239.9 357.3,1238.3 358.4,1240.3 359.6,1240.4 360.8,1241.1 361.9,1241.8 363.1,1243.8 364.2,1243.2 365.4,1242.6 366.6,1242.4 367.7,1241.8 368.9,1242.6 370.0,1243.7 371.2,1243.5 372.4,1243.2 373.5,1244.8 374.7,1246.4 375.8,1247.0 377.0,1245.4 378.2,1244.7 379.3,1246.3 380.5,1246.4 381.6,1245.8 382.8,1245.1 383.9,1246.8 385.1,1247.4 386.3,1246.2 387.4,1244.6 388.6,1244.6 389.7,1247.3 390.9,1247.2 392.1,1248.0 393.2,1248.1 394.4,1248.8 395.5,1248.9 396.7,1248.5 397.9,1246.3 399.0,1246.2 400.2,1246.2 401.3,1246.5 402.5,1247.3 403.7,1247.0 404.8,1245.2 406.0,1244.4 407.1,1242.6 408.3,1243.0 409.5,1243.2 410.6,1244.5 411.8,1242.9 412.9,1243.7 414.1,1240.5 415.3,1240.4 416.4,1239.2 417.6,1239.3 418.7,1237.9 419.9,1236.8 421.0,1233.4 422.2,1231.5 423.4,1230.9 424.5,1230.3 425.7,1226.9 426.8,1224.1 428.0,1221.6 429.2,1217.0 430.3,1213.3 431.5,1209.0 432.6,1205.1 433.8,1200.4 435.0,1195.0 436.1,1190.1 437.3,1181.8 438.4,1173.8 439.6,1167.3 440.8,1157.3 441.9,1145.8 443.1,1135.0 444.2,1122.2 445.4,1110.7 446.6,1098.0 447.7,1086.6 448.9,1074.9 450.0,1065.7 451.2,1057.7 452.4,1052.3 453.5,1051.3 454.7,1053.1 455.8,1059.0 457.0,1068.0 458.1,1076.7 459.3,1087.5 460.5,1096.9 461.6,1107.3 462.8,1119.2 463.9,1132.6 465.1,1144.0 466.3,1153.9 467.4,1164.2 468.6,1172.4 469.7,1180.2 470.9,1187.6 472.1,1195.2 473.2,1203.2 474.4,1210.1 475.5,1215.5 476.7,1219.3 477.9,1223.1 479.0,1227.7 480.2,1232.6 481.3,1236.6 482.5,1240.2 483.7,1243.1 484.8,1246.5 486.0,1251.9 487.1,1253.6 488.3,1256.2 489.5,1259.4 490.6,1261.2 491.8,1263.3 492.9,1265.6 494.1,1269.2 495.2,1270.2 496.4,1270.9 497.6,1272.6 498.7,1275.6 499.9,1275.8 501.0,1276.1 502.2,1277.3 503.4,1278.2 504.5,1279.8 505.7,1281.5 506.8,1281.5 508.0,1282.8 509.2,1283.3 510.3,1280.8 511.5,1282.3 512.6,1284.1 513.8,1287.1 515.0,1287.4 516.1,1287.2 517.3,1288.8 518.4,1289.5 519.6,1292.1 520.8,1291.0 521.9,1291.8 523.1,1291.2 524.2,1290.4 525.4,1291.7 526.6,1291.5 527.7,1292.2 528.9,1293.3 530.0,1294.1 531.2,1295.3 532.4,1294.0 533.5,1293.9 534.7,1295.8 535.8,1295.2 537.0,1296.6 538.1,1298.2 539.3,1296.6 540.5,1298.3 541.6,1297.0 542.8,1297.4 543.9,1297.0 545.1,1297.3 546.3,1297.0 547.4,1297.7 548.6,1298.0 549.7,1298.6 550.9,1298.3 552.1,1299.6 553.2,1299.1 554.4,1298.4 555.5,1299.7 556.7,1300.1 557.9,1301.3 559.0,1301.9 560.2,1301.7 561.3,1302.4 562.5,1303.4 563.7,1303.2 564.8,1303.0 566.0,1302.8 567.1,1302.5 568.3,1304.8 569.5,1303.1 570.6,1303.8 571.8,1304.8 572.9,1305.1 574.1,1304.6" fill="none" stroke="#6fdcf0" stroke-width="2.3" stroke-linejoin="round"/>
<polyline points="205.4,1306.2 206.6,1305.9 207.7,1304.7 208.9,1305.3 210.0,1303.4 211.2,1302.1 212.4,1301.2 213.5,1298.8 214.7,1296.1 215.8,1294.8 217.0,1295.4 218.2,1292.8 219.3,1292.7 220.5,1291.7 221.6,1291.1 222.8,1289.2 224.0,1287.4 225.1,1286.2 226.3,1285.3 227.4,1284.1 228.6,1283.1 229.7,1280.6 230.9,1280.1 232.1,1278.9 233.2,1277.8 234.4,1277.2 235.5,1275.8 236.7,1275.7 237.9,1273.4 239.0,1271.5 240.2,1270.8 241.3,1268.2 242.5,1268.6 243.7,1267.1 244.8,1266.0 246.0,1266.1 247.1,1265.5 248.3,1263.7 249.5,1263.2 250.6,1262.4 251.8,1260.6 252.9,1260.5 254.1,1262.1 255.3,1261.7 256.4,1259.8 257.6,1259.5 258.7,1260.0 259.9,1261.0 261.1,1259.1 262.2,1256.7 263.4,1257.8 264.5,1259.2 265.7,1257.2 266.8,1256.9 268.0,1256.3 269.2,1255.9 270.3,1256.0 271.5,1254.6 272.6,1253.2 273.8,1252.8 275.0,1253.3 276.1,1251.9 277.3,1252.0 278.4,1251.3 279.6,1252.2 280.8,1251.0 281.9,1250.1 283.1,1248.9 284.2,1249.3 285.4,1249.0 286.6,1249.6 287.7,1248.4 288.9,1247.7 290.0,1246.9 291.2,1247.7 292.4,1248.8 293.5,1248.1 294.7,1247.7 295.8,1247.9 297.0,1246.6 298.2,1245.4 299.3,1245.1 300.5,1244.1 301.6,1244.2 302.8,1245.4 303.9,1245.6 305.1,1245.3 306.3,1244.1 307.4,1243.0 308.6,1243.1 309.7,1242.2 310.9,1243.4 312.1,1243.2 313.2,1241.5 314.4,1241.4 315.5,1240.7 316.7,1243.1 317.9,1244.1 319.0,1243.7 320.2,1241.7 321.3,1239.8 322.5,1240.9 323.7,1241.8 324.8,1242.2 326.0,1242.2 327.1,1240.8 328.3,1240.7 329.5,1238.5 330.6,1238.4 331.8,1239.5 332.9,1239.2 334.1,1239.4 335.3,1238.5 336.4,1237.8 337.6,1238.7 338.7,1237.9 339.9,1237.7 341.0,1238.3 342.2,1238.3 343.4,1237.9 344.5,1238.6 345.7,1239.4 346.8,1238.0 348.0,1238.4 349.2,1239.3 350.3,1238.9 351.5,1240.5 352.6,1240.1 353.8,1241.3 355.0,1241.1 356.1,1242.5 357.3,1242.3 358.4,1240.8 359.6,1241.1 360.8,1242.4 361.9,1240.4 363.1,1241.8 364.2,1240.6 365.4,1242.1 366.6,1244.0 367.7,1242.0 368.9,1243.3 370.0,1243.1 371.2,1242.7 372.4,1245.0 373.5,1245.2 374.7,1246.0 375.8,1245.5 377.0,1246.0 378.2,1247.6 379.3,1247.4 380.5,1246.7 381.6,1247.5 382.8,1247.2 383.9,1248.2 385.1,1248.4 386.3,1248.2 387.4,1248.3 388.6,1247.4 389.7,1247.2 390.9,1247.2 392.1,1247.4 393.2,1248.0 394.4,1249.6 395.5,1248.3 396.7,1246.9 397.9,1247.5 399.0,1248.2 400.2,1248.2 401.3,1246.9 402.5,1246.9 403.7,1248.0 404.8,1247.6 406.0,1247.7 407.1,1247.0 408.3,1247.0 409.5,1246.7 410.6,1244.0 411.8,1242.6 412.9,1244.0 414.1,1243.8 415.3,1242.8 416.4,1241.8 417.6,1241.6 418.7,1238.8 419.9,1239.1 421.0,1236.4 422.2,1234.2 423.4,1233.1 424.5,1231.9 425.7,1229.6 426.8,1227.1 428.0,1226.6 429.2,1224.0 430.3,1219.4 431.5,1215.7 432.6,1212.1 433.8,1208.5 435.0,1203.9 436.1,1198.8 437.3,1189.7 438.4,1185.3 439.6,1176.7 440.8,1169.1 441.9,1160.8 443.1,1151.6 444.2,1142.1 445.4,1129.8 446.6,1118.9 447.7,1108.5 448.9,1098.5 450.0,1089.6 451.2,1084.2 452.4,1080.7 453.5,1080.9 454.7,1082.5 455.8,1086.8 457.0,1095.6 458.1,1103.4 459.3,1111.3 460.5,1122.5 461.6,1133.3 462.8,1141.6 463.9,1151.6 465.1,1161.4 466.3,1171.3 467.4,1178.9 468.6,1187.1 469.7,1193.9 470.9,1200.2 472.1,1206.1 473.2,1212.7 474.4,1218.8 475.5,1223.7 476.7,1228.5 477.9,1232.6 479.0,1237.3 480.2,1241.2 481.3,1245.1 482.5,1248.6 483.7,1251.2 484.8,1252.8 486.0,1256.4 487.1,1258.4 488.3,1260.7 489.5,1263.2 490.6,1264.8 491.8,1267.8 492.9,1269.1 494.1,1270.8 495.2,1276.0 496.4,1275.8 497.6,1276.1 498.7,1275.5 499.9,1278.5 501.0,1279.6 502.2,1280.4 503.4,1282.6 504.5,1282.1 505.7,1282.9 506.8,1284.9 508.0,1286.8 509.2,1287.3 510.3,1285.3 511.5,1284.7 512.6,1289.1 513.8,1291.3 515.0,1290.3 516.1,1290.8 517.3,1291.9 518.4,1291.5 519.6,1292.0 520.8,1292.4 521.9,1292.8 523.1,1294.6 524.2,1293.4 525.4,1294.7 526.6,1294.0 527.7,1294.3 528.9,1295.2 530.0,1295.8 531.2,1296.4 532.4,1298.7 533.5,1298.6 534.7,1298.0 535.8,1299.8 537.0,1300.8 538.1,1299.0 539.3,1298.4 540.5,1300.5 541.6,1299.9 542.8,1300.1 543.9,1299.4 545.1,1300.4 546.3,1301.0 547.4,1301.9 548.6,1301.6 549.7,1301.9 550.9,1302.7 552.1,1302.9 553.2,1303.5 554.4,1302.7 555.5,1303.9 556.7,1305.2 557.9,1305.4 559.0,1303.7 560.2,1304.4 561.3,1303.7 562.5,1303.4 563.7,1304.5 564.8,1304.0 566.0,1304.1 567.1,1304.8 568.3,1305.9 569.5,1305.9 570.6,1307.3 571.8,1307.1 572.9,1307.4 574.1,1306.7" fill="none" stroke="#2f7a5e" stroke-width="1.5" stroke-linejoin="round"/>
<polyline points="205.4,1306.7 206.6,1306.5 207.7,1304.4 208.9,1302.4 210.0,1301.9 211.2,1301.9 212.4,1300.2 213.5,1301.6 214.7,1300.0 215.8,1297.5 217.0,1294.1 218.2,1294.4 219.3,1291.7 220.5,1288.9 221.6,1287.2 222.8,1289.8 224.0,1287.3 225.1,1286.1 226.3,1284.1 227.4,1283.5 228.6,1283.0 229.7,1281.8 230.9,1278.9 232.1,1277.3 233.2,1277.1 234.4,1275.7 235.5,1274.0 236.7,1272.8 237.9,1272.3 239.0,1272.1 240.2,1271.6 241.3,1270.6 242.5,1269.8 243.7,1269.9 244.8,1269.5 246.0,1266.7 247.1,1266.7 248.3,1266.6 249.5,1265.0 250.6,1262.3 251.8,1260.8 252.9,1261.3 254.1,1261.9 255.3,1261.5 256.4,1261.5 257.6,1260.9 258.7,1259.4 259.9,1259.8 261.1,1259.6 262.2,1258.8 263.4,1257.9 264.5,1258.0 265.7,1257.8 266.8,1257.9 268.0,1257.5 269.2,1255.8 270.3,1255.4 271.5,1257.9 272.6,1255.4 273.8,1254.6 275.0,1254.7 276.1,1254.0 277.3,1256.2 278.4,1255.9 279.6,1252.8 280.8,1250.0 281.9,1248.3 283.1,1250.0 284.2,1250.0 285.4,1249.2 286.6,1250.5 287.7,1248.2 288.9,1249.2 290.0,1248.5 291.2,1249.5 292.4,1248.4 293.5,1248.0 294.7,1246.6 295.8,1247.9 297.0,1247.3 298.2,1245.1 299.3,1246.7 300.5,1245.9 301.6,1245.3 302.8,1245.7 303.9,1245.6 305.1,1243.8 306.3,1243.0 307.4,1243.0 308.6,1243.1 309.7,1244.5 310.9,1244.0 312.1,1241.9 313.2,1241.4 314.4,1243.3 315.5,1245.0 316.7,1244.5 317.9,1243.3 319.0,1243.2 320.2,1242.9 321.3,1241.9 322.5,1240.8 323.7,1240.8 324.8,1239.7 326.0,1241.6 327.1,1240.7 328.3,1240.2 329.5,1241.7 330.6,1239.8 331.8,1241.5 332.9,1242.2 334.1,1238.5 335.3,1237.7 336.4,1238.2 337.6,1237.4 338.7,1237.2 339.9,1239.3 341.0,1238.8 342.2,1237.7 343.4,1238.6 344.5,1238.9 345.7,1239.6 346.8,1238.8 348.0,1239.7 349.2,1240.3 350.3,1241.3 351.5,1241.7 352.6,1240.8 353.8,1240.2 355.0,1240.8 356.1,1241.9 357.3,1241.2 358.4,1240.9 359.6,1240.0 360.8,1241.4 361.9,1242.2 363.1,1241.9 364.2,1240.9 365.4,1242.1 366.6,1243.0 367.7,1244.5 368.9,1244.9 370.0,1244.0 371.2,1243.8 372.4,1243.6 373.5,1246.4 374.7,1245.6 375.8,1247.1 377.0,1246.6 378.2,1249.4 379.3,1248.8 380.5,1249.5 381.6,1247.8 382.8,1248.1 383.9,1247.3 385.1,1248.6 386.3,1247.0 387.4,1248.6 388.6,1247.3 389.7,1248.9 390.9,1250.3 392.1,1249.3 393.2,1250.0 394.4,1250.0 395.5,1251.3 396.7,1250.9 397.9,1250.1 399.0,1250.4 400.2,1249.4 401.3,1251.4 402.5,1249.1 403.7,1249.0 404.8,1246.9 406.0,1247.3 407.1,1247.6 408.3,1247.3 409.5,1246.2 410.6,1245.0 411.8,1245.0 412.9,1245.1 414.1,1243.6 415.3,1242.0 416.4,1243.3 417.6,1243.0 418.7,1241.9 419.9,1238.5 421.0,1236.5 422.2,1235.2 423.4,1234.1 424.5,1234.4 425.7,1231.4 426.8,1230.4 428.0,1229.0 429.2,1224.4 430.3,1223.8 431.5,1219.2 432.6,1216.2 433.8,1213.9 435.0,1209.4 436.1,1205.7 437.3,1200.2 438.4,1195.2 439.6,1189.8 440.8,1179.7 441.9,1173.5 443.1,1164.6 444.2,1156.4 445.4,1146.6 446.6,1138.7 447.7,1129.8 448.9,1123.4 450.0,1112.9 451.2,1106.2 452.4,1104.3 453.5,1103.0 454.7,1104.9 455.8,1106.6 457.0,1113.8 458.1,1121.1 459.3,1129.6 460.5,1138.3 461.6,1148.0 462.8,1157.7 463.9,1165.7 465.1,1173.2 466.3,1183.0 467.4,1191.5 468.6,1198.0 469.7,1202.4 470.9,1209.4 472.1,1217.0 473.2,1220.9 474.4,1225.1 475.5,1228.2 476.7,1233.3 477.9,1236.1 479.0,1241.8 480.2,1244.8 481.3,1248.5 482.5,1253.1 483.7,1256.0 484.8,1257.0 486.0,1258.9 487.1,1262.3 488.3,1263.7 489.5,1265.5 490.6,1267.4 491.8,1269.7 492.9,1271.8 494.1,1274.7 495.2,1276.2 496.4,1277.4 497.6,1279.5 498.7,1280.8 499.9,1281.5 501.0,1282.4 502.2,1282.4 503.4,1285.0 504.5,1286.1 505.7,1286.5 506.8,1287.7 508.0,1288.0 509.2,1289.3 510.3,1288.6 511.5,1290.0 512.6,1292.0 513.8,1291.4 515.0,1290.5 516.1,1293.8 517.3,1294.1 518.4,1294.3 519.6,1293.7 520.8,1293.1 521.9,1294.7 523.1,1297.1 524.2,1296.4 525.4,1295.9 526.6,1296.4 527.7,1297.1 528.9,1298.6 530.0,1296.4 531.2,1298.9 532.4,1300.7 533.5,1299.4 534.7,1299.5 535.8,1299.3 537.0,1299.7 538.1,1298.7 539.3,1298.5 540.5,1300.6 541.6,1300.2 542.8,1302.4 543.9,1304.2 545.1,1302.4 546.3,1303.2 547.4,1305.4 548.6,1304.6 549.7,1305.0 550.9,1304.1 552.1,1304.3 553.2,1305.2 554.4,1305.7 555.5,1304.7 556.7,1305.9 557.9,1305.6 559.0,1306.7 560.2,1305.9 561.3,1304.3 562.5,1304.7 563.7,1304.5 564.8,1305.1 566.0,1307.0 567.1,1307.4 568.3,1307.4 569.5,1307.1 570.6,1308.1 571.8,1307.5 572.9,1308.6 574.1,1308.5" fill="none" stroke="#5a1a3c" stroke-width="1.5" stroke-linejoin="round"/>
<polyline points="205.4,1307.1 206.6,1307.2 207.7,1304.7 208.9,1303.7 210.0,1302.6 211.2,1301.7 212.4,1302.7 213.5,1302.0 214.7,1300.6 215.8,1297.4 217.0,1296.6 218.2,1294.5 219.3,1294.3 220.5,1293.5 221.6,1292.1 222.8,1289.2 224.0,1289.7 225.1,1287.9 226.3,1285.7 227.4,1284.1 228.6,1282.8 229.7,1280.7 230.9,1279.5 232.1,1279.5 233.2,1277.4 234.4,1277.1 235.5,1276.0 236.7,1273.1 237.9,1270.0 239.0,1268.8 240.2,1268.7 241.3,1269.4 242.5,1269.4 243.7,1266.6 244.8,1266.0 246.0,1267.1 247.1,1264.4 248.3,1263.5 249.5,1262.0 250.6,1261.8 251.8,1263.9 252.9,1263.4 254.1,1262.3 255.3,1261.5 256.4,1259.2 257.6,1259.8 258.7,1259.4 259.9,1259.0 261.1,1258.5 262.2,1259.0 263.4,1259.3 264.5,1260.7 265.7,1258.3 266.8,1257.4 268.0,1256.3 269.2,1256.8 270.3,1255.9 271.5,1256.2 272.6,1256.2 273.8,1254.7 275.0,1253.4 276.1,1252.6 277.3,1252.6 278.4,1252.8 279.6,1251.0 280.8,1250.0 281.9,1251.2 283.1,1252.1 284.2,1251.0 285.4,1250.3 286.6,1251.0 287.7,1248.1 288.9,1250.6 290.0,1250.6 291.2,1249.4 292.4,1247.9 293.5,1249.7 294.7,1249.2 295.8,1246.9 297.0,1245.5 298.2,1246.3 299.3,1246.3 300.5,1247.1 301.6,1246.1 302.8,1246.9 303.9,1248.2 305.1,1248.3 306.3,1246.7 307.4,1247.1 308.6,1244.7 309.7,1243.2 310.9,1242.5 312.1,1242.4 313.2,1241.8 314.4,1242.2 315.5,1241.7 316.7,1241.7 317.9,1241.3 319.0,1242.8 320.2,1243.2 321.3,1243.7 322.5,1242.0 323.7,1241.4 324.8,1242.2 326.0,1242.8 327.1,1242.6 328.3,1241.0 329.5,1241.1 330.6,1241.2 331.8,1241.6 332.9,1241.2 334.1,1239.2 335.3,1240.3 336.4,1240.5 337.6,1238.6 338.7,1238.5 339.9,1240.2 341.0,1239.0 342.2,1240.6 343.4,1239.8 344.5,1242.3 345.7,1242.3 346.8,1240.4 348.0,1240.9 349.2,1241.3 350.3,1240.9 351.5,1240.7 352.6,1241.2 353.8,1241.8 355.0,1239.8 356.1,1239.1 357.3,1239.9 358.4,1242.0 359.6,1242.7 360.8,1242.9 361.9,1242.4 363.1,1241.3 364.2,1242.8 365.4,1243.2 366.6,1244.2 367.7,1244.4 368.9,1245.5 370.0,1245.2 371.2,1244.4 372.4,1245.7 373.5,1246.6 374.7,1246.7 375.8,1248.4 377.0,1246.4 378.2,1248.6 379.3,1249.0 380.5,1249.8 381.6,1248.1 382.8,1249.2 383.9,1250.0 385.1,1248.1 386.3,1249.2 387.4,1250.5 388.6,1250.5 389.7,1250.3 390.9,1251.2 392.1,1251.2 393.2,1251.2 394.4,1250.3 395.5,1249.6 396.7,1249.2 397.9,1249.8 399.0,1249.1 400.2,1249.6 401.3,1248.3 402.5,1248.3 403.7,1248.9 404.8,1247.4 406.0,1249.0 407.1,1249.2 408.3,1248.9 409.5,1247.8 410.6,1248.0 411.8,1247.9 412.9,1248.2 414.1,1246.1 415.3,1245.5 416.4,1242.0 417.6,1241.1 418.7,1242.1 419.9,1239.8 421.0,1239.3 422.2,1237.5 423.4,1238.2 424.5,1235.6 425.7,1233.6 426.8,1233.1 428.0,1232.4 429.2,1230.5 430.3,1227.7 431.5,1222.7 432.6,1219.2 433.8,1216.0 435.0,1214.2 436.1,1211.4 437.3,1207.0 438.4,1202.9 439.6,1198.1 440.8,1192.4 441.9,1184.9 443.1,1178.3 444.2,1170.6 445.4,1163.0 446.6,1154.9 447.7,1146.9 448.9,1137.7 450.0,1131.4 451.2,1125.4 452.4,1123.9 453.5,1123.5 454.7,1127.7 455.8,1131.7 457.0,1136.7 458.1,1143.5 459.3,1150.4 460.5,1158.7 461.6,1166.1 462.8,1174.2 463.9,1181.3 465.1,1188.6 466.3,1196.2 467.4,1202.6 468.6,1208.3 469.7,1215.0 470.9,1219.6 472.1,1223.1 473.2,1228.4 474.4,1232.3 475.5,1236.2 476.7,1241.3 477.9,1243.5 479.0,1244.9 480.2,1250.5 481.3,1251.7 482.5,1256.3 483.7,1257.8 484.8,1262.9 486.0,1263.7 487.1,1266.1 488.3,1269.6 489.5,1271.9 490.6,1274.2 491.8,1276.0 492.9,1276.5 494.1,1277.9 495.2,1281.7 496.4,1282.1 497.6,1282.1 498.7,1283.0 499.9,1282.4 501.0,1286.1 502.2,1286.4 503.4,1287.3 504.5,1287.4 505.7,1290.0 506.8,1291.7 508.0,1291.8 509.2,1292.0 510.3,1294.3 511.5,1293.6 512.6,1293.9 513.8,1293.7 515.0,1297.1 516.1,1296.1 517.3,1297.2 518.4,1297.6 519.6,1296.8 520.8,1295.7 521.9,1296.8 523.1,1297.8 524.2,1297.2 525.4,1299.2 526.6,1299.8 527.7,1300.6 528.9,1301.6 530.0,1301.2 531.2,1299.3 532.4,1300.1 533.5,1300.5 534.7,1301.4 535.8,1300.8 537.0,1301.6 538.1,1303.2 539.3,1303.3 540.5,1302.1 541.6,1303.1 542.8,1302.5 543.9,1303.5 545.1,1302.1 546.3,1303.2 547.4,1303.5 548.6,1304.7 549.7,1304.4 550.9,1305.4 552.1,1307.3 553.2,1306.6 554.4,1307.9 555.5,1306.0 556.7,1305.8 557.9,1306.5 559.0,1306.3 560.2,1309.6 561.3,1307.4 562.5,1308.4 563.7,1307.8 564.8,1305.7 566.0,1308.8 567.1,1309.3 568.3,1309.0 569.5,1308.8 570.6,1310.9 571.8,1311.4 572.9,1309.4 574.1,1310.4" fill="none" stroke="#4a2c9c" stroke-width="1.5" stroke-linejoin="round"/>
<polyline points="205.4,1306.7 206.6,1307.2 207.7,1306.6 208.9,1306.6 210.0,1304.1 211.2,1301.3 212.4,1300.3 213.5,1299.6 214.7,1298.2 215.8,1296.6 217.0,1296.0 218.2,1294.2 219.3,1291.3 220.5,1288.8 221.6,1289.7 222.8,1290.2 224.0,1286.7 225.1,1285.1 226.3,1283.4 227.4,1282.5 228.6,1282.2 229.7,1280.2 230.9,1278.5 232.1,1276.9 233.2,1277.7 234.4,1275.5 235.5,1275.2 236.7,1274.5 237.9,1272.9 239.0,1272.3 240.2,1268.8 241.3,1268.2 242.5,1267.8 243.7,1267.6 244.8,1266.7 246.0,1266.4 247.1,1265.0 248.3,1263.7 249.5,1262.7 250.6,1263.9 251.8,1263.4 252.9,1262.4 254.1,1262.9 255.3,1261.3 256.4,1260.8 257.6,1260.1 258.7,1259.2 259.9,1259.5 261.1,1257.3 262.2,1256.4 263.4,1257.3 264.5,1256.6 265.7,1255.8 266.8,1256.7 268.0,1256.6 269.2,1255.4 270.3,1257.7 271.5,1257.6 272.6,1255.8 273.8,1254.3 275.0,1254.9 276.1,1253.3 277.3,1250.9 278.4,1251.4 279.6,1251.8 280.8,1251.7 281.9,1252.6 283.1,1251.4 284.2,1251.0 285.4,1250.0 286.6,1248.7 287.7,1249.2 288.9,1249.1 290.0,1248.8 291.2,1247.1 292.4,1249.2 293.5,1248.8 294.7,1249.0 295.8,1248.3 297.0,1247.0 298.2,1247.0 299.3,1246.2 300.5,1246.1 301.6,1246.9 302.8,1247.1 303.9,1247.9 305.1,1246.6 306.3,1246.4 307.4,1244.9 308.6,1243.9 309.7,1245.1 310.9,1245.8 312.1,1244.5 313.2,1245.1 314.4,1244.3 315.5,1243.3 316.7,1243.7 317.9,1241.7 319.0,1243.0 320.2,1242.4 321.3,1242.9 322.5,1245.5 323.7,1244.2 324.8,1243.3 326.0,1242.1 327.1,1242.0 328.3,1242.5 329.5,1242.5 330.6,1242.3 331.8,1241.0 332.9,1241.3 334.1,1239.8 335.3,1239.4 336.4,1240.7 337.6,1239.6 338.7,1242.2 339.9,1241.4 341.0,1242.0 342.2,1241.4 343.4,1239.8 344.5,1240.2 345.7,1240.5 346.8,1239.3 348.0,1240.7 349.2,1241.6 350.3,1240.4 351.5,1240.2 352.6,1242.1 353.8,1241.8 355.0,1241.0 356.1,1241.7 357.3,1242.4 358.4,1242.4 359.6,1242.4 360.8,1243.5 361.9,1242.7 363.1,1244.8 364.2,1244.7 365.4,1242.6 366.6,1244.8 367.7,1245.2 368.9,1247.8 370.0,1248.0 371.2,1248.6 372.4,1247.9 373.5,1248.2 374.7,1246.3 375.8,1248.1 377.0,1248.4 378.2,1248.5 379.3,1248.3 380.5,1248.1 381.6,1250.5 382.8,1248.3 383.9,1249.7 385.1,1250.9 386.3,1252.6 387.4,1252.4 388.6,1253.7 389.7,1252.5 390.9,1252.7 392.1,1251.9 393.2,1252.6 394.4,1252.1 395.5,1249.6 396.7,1249.3 397.9,1249.9 399.0,1251.3 400.2,1249.6 401.3,1251.6 402.5,1252.3 403.7,1249.8 404.8,1250.1 406.0,1248.2 407.1,1247.7 408.3,1245.6 409.5,1244.6 410.6,1245.0 411.8,1246.2 412.9,1245.4 414.1,1244.0 415.3,1244.2 416.4,1247.1 417.6,1245.9 418.7,1245.0 419.9,1243.9 421.0,1243.2 422.2,1241.0 423.4,1241.7 424.5,1239.9 425.7,1240.8 426.8,1240.9 428.0,1239.0 429.2,1237.0 430.3,1235.1 431.5,1232.9 432.6,1229.3 433.8,1226.1 435.0,1223.5 436.1,1220.5 437.3,1217.9 438.4,1215.0 439.6,1211.7 440.8,1206.6 441.9,1201.9 443.1,1195.8 444.2,1188.5 445.4,1181.6 446.6,1174.0 447.7,1169.1 448.9,1165.1 450.0,1160.0 451.2,1153.2 452.4,1151.0 453.5,1152.2 454.7,1152.8 455.8,1157.1 457.0,1159.9 458.1,1166.4 459.3,1173.0 460.5,1178.6 461.6,1186.4 462.8,1192.7 463.9,1196.7 465.1,1203.1 466.3,1210.5 467.4,1216.0 468.6,1220.9 469.7,1226.4 470.9,1230.1 472.1,1233.0 473.2,1237.4 474.4,1240.6 475.5,1244.4 476.7,1248.1 477.9,1252.2 479.0,1254.0 480.2,1255.8 481.3,1259.6 482.5,1263.1 483.7,1264.7 484.8,1266.8 486.0,1267.9 487.1,1269.9 488.3,1272.4 489.5,1275.8 490.6,1276.3 491.8,1277.8 492.9,1280.7 494.1,1283.0 495.2,1285.2 496.4,1284.6 497.6,1285.8 498.7,1289.8 499.9,1290.0 501.0,1290.4 502.2,1290.5 503.4,1290.8 504.5,1291.7 505.7,1291.6 506.8,1291.5 508.0,1293.1 509.2,1292.5 510.3,1294.1 511.5,1296.1 512.6,1296.3 513.8,1298.3 515.0,1298.5 516.1,1299.6 517.3,1299.8 518.4,1299.5 519.6,1302.2 520.8,1301.0 521.9,1300.7 523.1,1301.2 524.2,1300.7 525.4,1301.0 526.6,1302.0 527.7,1303.3 528.9,1302.5 530.0,1302.1 531.2,1304.3 532.4,1304.9 533.5,1305.8 534.7,1304.4 535.8,1305.2 537.0,1306.4 538.1,1304.5 539.3,1304.6 540.5,1305.0 541.6,1305.3 542.8,1306.0 543.9,1306.3 545.1,1305.7 546.3,1305.9 547.4,1307.1 548.6,1307.2 549.7,1305.7 550.9,1307.3 552.1,1309.1 553.2,1308.7 554.4,1309.9 555.5,1306.9 556.7,1307.3 557.9,1307.7 559.0,1308.2 560.2,1307.0 561.3,1309.4 562.5,1309.8 563.7,1311.7 564.8,1310.0 566.0,1310.5 567.1,1309.0 568.3,1310.3 569.5,1311.9 570.6,1312.5 571.8,1311.4 572.9,1312.5 574.1,1312.1" fill="none" stroke="#e0a03c" stroke-width="1.5" stroke-linejoin="round"/>
<polyline points="205.4,1308.0 206.6,1307.3 207.7,1306.3 208.9,1303.1 210.0,1303.6 211.2,1301.9 212.4,1300.0 213.5,1299.9 214.7,1300.1 215.8,1296.7 217.0,1294.1 218.2,1294.0 219.3,1294.3 220.5,1291.9 221.6,1290.9 222.8,1290.5 224.0,1289.2 225.1,1289.9 226.3,1288.1 227.4,1286.9 228.6,1285.8 229.7,1282.6 230.9,1280.7 232.1,1277.6 233.2,1279.8 234.4,1278.4 235.5,1277.3 236.7,1274.1 237.9,1272.1 239.0,1271.4 240.2,1270.6 241.3,1270.6 242.5,1269.9 243.7,1269.1 244.8,1270.4 246.0,1266.4 247.1,1265.0 248.3,1262.5 249.5,1261.7 250.6,1261.7 251.8,1261.1 252.9,1263.0 254.1,1263.1 255.3,1261.1 256.4,1261.0 257.6,1262.0 258.7,1260.7 259.9,1261.1 261.1,1259.8 262.2,1257.4 263.4,1258.5 264.5,1258.3 265.7,1257.0 266.8,1256.8 268.0,1256.2 269.2,1256.8 270.3,1256.4 271.5,1258.1 272.6,1256.7 273.8,1254.3 275.0,1255.2 276.1,1254.6 277.3,1253.3 278.4,1251.8 279.6,1251.0 280.8,1252.4 281.9,1252.5 283.1,1250.3 284.2,1251.2 285.4,1250.7 286.6,1251.5 287.7,1251.5 288.9,1253.7 290.0,1252.4 291.2,1253.2 292.4,1252.3 293.5,1251.6 294.7,1248.8 295.8,1247.7 297.0,1247.3 298.2,1247.9 299.3,1249.0 300.5,1247.6 301.6,1248.0 302.8,1247.4 303.9,1245.9 305.1,1246.1 306.3,1246.0 307.4,1246.7 308.6,1245.0 309.7,1244.5 310.9,1243.9 312.1,1242.6 313.2,1245.0 314.4,1244.6 315.5,1243.7 316.7,1243.4 317.9,1243.2 319.0,1242.8 320.2,1244.5 321.3,1243.9 322.5,1242.3 323.7,1242.5 324.8,1242.7 326.0,1241.7 327.1,1243.7 328.3,1242.6 329.5,1240.8 330.6,1241.5 331.8,1242.4 332.9,1241.4 334.1,1241.9 335.3,1242.4 336.4,1241.7 337.6,1243.1 338.7,1241.5 339.9,1242.5 341.0,1242.4 342.2,1241.0 343.4,1241.1 344.5,1240.8 345.7,1239.6 346.8,1238.8 348.0,1237.9 349.2,1240.0 350.3,1239.8 351.5,1242.4 352.6,1241.4 353.8,1240.5 355.0,1242.1 356.1,1241.9 357.3,1241.5 358.4,1242.5 359.6,1243.6 360.8,1242.2 361.9,1244.4 363.1,1244.3 364.2,1243.6 365.4,1244.2 366.6,1243.3 367.7,1243.1 368.9,1244.2 370.0,1243.7 371.2,1244.6 372.4,1247.3 373.5,1248.0 374.7,1248.0 375.8,1248.2 377.0,1250.4 378.2,1247.8 379.3,1250.4 380.5,1251.5 381.6,1250.7 382.8,1250.6 383.9,1249.4 385.1,1250.1 386.3,1250.4 387.4,1250.3 388.6,1251.8 389.7,1253.2 390.9,1253.2 392.1,1251.8 393.2,1252.3 394.4,1251.0 395.5,1252.0 396.7,1251.2 397.9,1251.4 399.0,1250.5 400.2,1250.8 401.3,1250.6 402.5,1250.9 403.7,1249.3 404.8,1249.4 406.0,1248.8 407.1,1248.1 408.3,1249.0 409.5,1249.2 410.6,1248.3 411.8,1246.3 412.9,1247.3 414.1,1247.6 415.3,1247.6 416.4,1246.8 417.6,1246.8 418.7,1246.3 419.9,1244.4 421.0,1244.7 422.2,1243.5 423.4,1243.7 424.5,1242.4 425.7,1240.5 426.8,1241.5 428.0,1239.3 429.2,1237.3 430.3,1235.7 431.5,1233.7 432.6,1231.4 433.8,1230.9 435.0,1228.2 436.1,1224.6 437.3,1220.5 438.4,1219.2 439.6,1215.9 440.8,1212.9 441.9,1207.6 443.1,1203.3 444.2,1198.3 445.4,1191.1 446.6,1182.9 447.7,1180.2 448.9,1172.8 450.0,1169.6 451.2,1165.5 452.4,1163.8 453.5,1163.1 454.7,1165.8 455.8,1169.8 457.0,1173.6 458.1,1177.5 459.3,1184.0 460.5,1189.0 461.6,1194.9 462.8,1200.5 463.9,1206.2 465.1,1211.1 466.3,1215.8 467.4,1221.6 468.6,1226.7 469.7,1233.2 470.9,1237.1 472.1,1241.5 473.2,1243.2 474.4,1247.5 475.5,1250.8 476.7,1252.6 477.9,1254.4 479.0,1256.3 480.2,1260.5 481.3,1262.7 482.5,1264.1 483.7,1267.7 484.8,1269.9 486.0,1273.0 487.1,1274.8 488.3,1275.3 489.5,1276.9 490.6,1278.9 491.8,1280.8 492.9,1280.5 494.1,1281.6 495.2,1284.8 496.4,1283.7 497.6,1286.2 498.7,1287.8 499.9,1289.5 501.0,1291.0 502.2,1291.0 503.4,1293.5 504.5,1293.8 505.7,1294.7 506.8,1293.5 508.0,1294.5 509.2,1295.4 510.3,1296.1 511.5,1296.6 512.6,1297.6 513.8,1301.0 515.0,1300.2 516.1,1300.7 517.3,1300.2 518.4,1300.6 519.6,1301.8 520.8,1303.0 521.9,1304.0 523.1,1303.4 524.2,1303.6 525.4,1304.7 526.6,1304.9 527.7,1304.5 528.9,1305.4 530.0,1305.5 531.2,1306.1 532.4,1308.6 533.5,1307.4 534.7,1306.9 535.8,1306.0 537.0,1305.2 538.1,1306.8 539.3,1306.6 540.5,1306.8 541.6,1307.3 542.8,1306.9 543.9,1306.8 545.1,1308.9 546.3,1307.5 547.4,1308.4 548.6,1309.6 549.7,1310.3 550.9,1310.3 552.1,1311.3 553.2,1309.8 554.4,1309.7 555.5,1311.1 556.7,1310.2 557.9,1310.4 559.0,1310.8 560.2,1310.2 561.3,1311.0 562.5,1311.7 563.7,1311.4 564.8,1313.7 566.0,1314.4 567.1,1313.2 568.3,1312.0 569.5,1314.2 570.6,1313.8 571.8,1314.4 572.9,1314.4 574.1,1313.6" fill="none" stroke="#e04c7e" stroke-width="1.5" stroke-linejoin="round"/>
<polyline points="205.4,1306.5 206.6,1306.5 207.7,1306.8 208.9,1307.2 210.0,1305.1 211.2,1301.8 212.4,1300.5 213.5,1301.5 214.7,1300.1 215.8,1297.6 217.0,1294.3 218.2,1292.5 219.3,1291.7 220.5,1290.9 221.6,1291.0 222.8,1289.9 224.0,1288.6 225.1,1287.7 226.3,1285.7 227.4,1284.5 228.6,1282.5 229.7,1279.7 230.9,1278.3 232.1,1277.3 233.2,1276.8 234.4,1277.2 235.5,1275.6 236.7,1273.5 237.9,1273.4 239.0,1270.6 240.2,1270.2 241.3,1268.9 242.5,1268.4 243.7,1268.6 244.8,1265.1 246.0,1266.1 247.1,1264.2 248.3,1264.2 249.5,1263.1 250.6,1263.3 251.8,1262.7 252.9,1260.8 254.1,1258.5 255.3,1259.7 256.4,1259.3 257.6,1258.0 258.7,1258.5 259.9,1257.3 261.1,1257.9 262.2,1256.7 263.4,1256.0 264.5,1254.7 265.7,1254.6 266.8,1255.9 268.0,1254.6 269.2,1255.5 270.3,1253.9 271.5,1252.2 272.6,1251.9 273.8,1252.7 275.0,1251.3 276.1,1251.4 277.3,1252.6 278.4,1252.2 279.6,1250.1 280.8,1250.5 281.9,1250.1 283.1,1250.2 284.2,1251.4 285.4,1250.8 286.6,1249.4 287.7,1248.6 288.9,1248.4 290.0,1250.1 291.2,1247.5 292.4,1246.5 293.5,1245.4 294.7,1244.4 295.8,1245.5 297.0,1246.0 298.2,1245.3 299.3,1243.4 300.5,1245.6 301.6,1245.2 302.8,1245.3 303.9,1244.0 305.1,1242.3 306.3,1243.0 307.4,1244.1 308.6,1243.4 309.7,1243.2 310.9,1244.2 312.1,1242.3 313.2,1242.5 314.4,1241.3 315.5,1242.5 316.7,1240.7 317.9,1242.1 319.0,1240.3 320.2,1242.1 321.3,1239.8 322.5,1240.2 323.7,1241.5 324.8,1240.8 326.0,1239.8 327.1,1240.4 328.3,1240.2 329.5,1239.3 330.6,1239.1 331.8,1241.8 332.9,1240.6 334.1,1239.1 335.3,1238.3 336.4,1237.1 337.6,1238.0 338.7,1235.4 339.9,1235.6 341.0,1236.2 342.2,1235.7 343.4,1235.6 344.5,1236.4 345.7,1237.6 346.8,1236.6 348.0,1236.7 349.2,1239.1 350.3,1239.7 351.5,1238.5 352.6,1238.3 353.8,1238.1 355.0,1237.8 356.1,1238.1 357.3,1237.0 358.4,1238.7 359.6,1239.5 360.8,1239.4 361.9,1239.1 363.1,1239.0 364.2,1238.4 365.4,1240.2 366.6,1239.7 367.7,1240.3 368.9,1242.3 370.0,1242.7 371.2,1240.9 372.4,1241.3 373.5,1242.9 374.7,1245.9 375.8,1246.0 377.0,1246.2 378.2,1245.7 379.3,1243.3 380.5,1243.7 381.6,1244.5 382.8,1246.2 383.9,1247.5 385.1,1247.3 386.3,1247.5 387.4,1244.3 388.6,1245.9 389.7,1247.1 390.9,1246.0 392.1,1246.5 393.2,1248.0 394.4,1246.3 395.5,1246.9 396.7,1248.2 397.9,1247.2 399.0,1246.4 400.2,1246.6 401.3,1245.6 402.5,1244.8 403.7,1245.8 404.8,1247.3 406.0,1248.2 407.1,1246.2 408.3,1243.5 409.5,1241.9 410.6,1240.2 411.8,1238.5 412.9,1238.9 414.1,1237.6 415.3,1238.8 416.4,1236.8 417.6,1235.2 418.7,1234.1 419.9,1233.1 421.0,1232.2 422.2,1229.5 423.4,1225.7 424.5,1224.0 425.7,1220.8 426.8,1218.7 428.0,1214.9 429.2,1212.1 430.3,1207.1 431.5,1202.6 432.6,1197.0 433.8,1192.0 435.0,1186.7 436.1,1179.4 437.3,1170.1 438.4,1160.2 439.6,1151.9 440.8,1141.0 441.9,1129.3 443.1,1117.0 444.2,1105.5 445.4,1090.4 446.6,1076.5 447.7,1060.1 448.9,1045.7 450.0,1033.7 451.2,1027.9 452.4,1021.7 453.5,1020.7 454.7,1025.5 455.8,1030.3 457.0,1039.1 458.1,1050.0 459.3,1062.7 460.5,1076.1 461.6,1089.0 462.8,1098.4 463.9,1112.0 465.1,1124.6 466.3,1137.3 467.4,1148.7 468.6,1159.1 469.7,1169.1 470.9,1176.5 472.1,1185.0 473.2,1191.7 474.4,1200.1 475.5,1205.3 476.7,1211.5 477.9,1216.5 479.0,1222.1 480.2,1227.9 481.3,1230.8 482.5,1235.7 483.7,1239.7 484.8,1244.0 486.0,1246.7 487.1,1250.0 488.3,1252.3 489.5,1254.7 490.6,1258.0 491.8,1261.4 492.9,1262.4 494.1,1263.3 495.2,1264.8 496.4,1268.1 497.6,1268.9 498.7,1270.2 499.9,1271.5 501.0,1272.7 502.2,1274.5 503.4,1275.5 504.5,1275.7 505.7,1277.7 506.8,1280.1 508.0,1280.4 509.2,1280.6 510.3,1283.1 511.5,1283.6 512.6,1283.1 513.8,1283.9 515.0,1284.4 516.1,1286.3 517.3,1285.5 518.4,1284.6 519.6,1286.2 520.8,1287.9 521.9,1289.5 523.1,1288.6 524.2,1289.1 525.4,1290.5 526.6,1289.5 527.7,1289.6 528.9,1290.0 530.0,1292.7 531.2,1292.7 532.4,1292.2 533.5,1293.9 534.7,1292.9 535.8,1292.0 537.0,1292.1 538.1,1294.0 539.3,1295.2 540.5,1294.4 541.6,1294.0 542.8,1293.8 543.9,1293.8 545.1,1295.2 546.3,1296.4 547.4,1298.6 548.6,1297.4 549.7,1295.4 550.9,1297.1 552.1,1298.1 553.2,1297.7 554.4,1297.9 555.5,1299.8 556.7,1300.3 557.9,1301.1 559.0,1298.6 560.2,1300.0 561.3,1299.4 562.5,1298.1 563.7,1297.5 564.8,1297.7 566.0,1297.8 567.1,1300.7 568.3,1301.6 569.5,1302.5 570.6,1302.7 571.8,1300.1 572.9,1302.9 574.1,1302.4" fill="none" stroke="#a03cb4" stroke-width="1.5" stroke-linejoin="round"/>
</g>
<rect x="205.4" y="952.7" width="368.9" height="409.2" fill="none" stroke="#3a3a3a" stroke-width="1.9"/>
<line x1="199.4" y1="1361.9" x2="205.4" y2="1361.9" stroke="#3a3a3a" stroke-width="1.6"/>
<text x="194.6" y="1366.9" font-size="18.4" fill="#333" text-anchor="end" font-weight="normal" >0</text>
<line x1="201.9" y1="1334.6" x2="205.4" y2="1334.6" stroke="#3a3a3a" stroke-width="1.6"/>
<line x1="199.4" y1="1307.3" x2="205.4" y2="1307.3" stroke="#3a3a3a" stroke-width="1.6"/>
<text x="194.6" y="1312.3" font-size="18.4" fill="#333" text-anchor="end" font-weight="normal" >2000</text>
<line x1="201.9" y1="1280.1" x2="205.4" y2="1280.1" stroke="#3a3a3a" stroke-width="1.6"/>
<line x1="199.4" y1="1252.8" x2="205.4" y2="1252.8" stroke="#3a3a3a" stroke-width="1.6"/>
<text x="194.6" y="1257.8" font-size="18.4" fill="#333" text-anchor="end" font-weight="normal" >4000</text>
<line x1="201.9" y1="1225.5" x2="205.4" y2="1225.5" stroke="#3a3a3a" stroke-width="1.6"/>
<line x1="199.4" y1="1198.2" x2="205.4" y2="1198.2" stroke="#3a3a3a" stroke-width="1.6"/>
<text x="194.6" y="1203.2" font-size="18.4" fill="#333" text-anchor="end" font-weight="normal" >6000</text>
<line x1="201.9" y1="1170.9" x2="205.4" y2="1170.9" stroke="#3a3a3a" stroke-width="1.6"/>
<line x1="199.4" y1="1143.7" x2="205.4" y2="1143.7" stroke="#3a3a3a" stroke-width="1.6"/>
<text x="194.6" y="1148.7" font-size="18.4" fill="#333" text-anchor="end" font-weight="normal" >8000</text>
<line x1="201.9" y1="1116.4" x2="205.4" y2="1116.4" stroke="#3a3a3a" stroke-width="1.6"/>
<line x1="199.4" y1="1089.1" x2="205.4" y2="1089.1" stroke="#3a3a3a" stroke-width="1.6"/>
<text x="194.6" y="1094.1" font-size="18.4" fill="#333" text-anchor="end" font-weight="normal" >10000</text>
<line x1="201.9" y1="1061.8" x2="205.4" y2="1061.8" stroke="#3a3a3a" stroke-width="1.6"/>
<line x1="199.4" y1="1034.5" x2="205.4" y2="1034.5" stroke="#3a3a3a" stroke-width="1.6"/>
<text x="194.6" y="1039.5" font-size="18.4" fill="#333" text-anchor="end" font-weight="normal" >12000</text>
<line x1="201.9" y1="1007.3" x2="205.4" y2="1007.3" stroke="#3a3a3a" stroke-width="1.6"/>
<line x1="199.4" y1="980.0" x2="205.4" y2="980.0" stroke="#3a3a3a" stroke-width="1.6"/>
<text x="194.6" y="985.0" font-size="18.4" fill="#333" text-anchor="end" font-weight="normal" >14000</text>
<line x1="205.4" y1="1361.9" x2="205.4" y2="1365.4" stroke="#3a3a3a" stroke-width="1.6"/>
<line x1="258.1" y1="1361.9" x2="258.1" y2="1367.9" stroke="#3a3a3a" stroke-width="1.6"/>
<text x="258.1" y="1387.0" font-size="18.6" fill="#333" text-anchor="middle" font-weight="normal" >600</text>
<line x1="310.8" y1="1361.9" x2="310.8" y2="1365.4" stroke="#3a3a3a" stroke-width="1.6"/>
<line x1="363.5" y1="1361.9" x2="363.5" y2="1367.9" stroke="#3a3a3a" stroke-width="1.6"/>
<text x="363.5" y="1387.0" font-size="18.6" fill="#333" text-anchor="middle" font-weight="normal" >650</text>
<line x1="416.2" y1="1361.9" x2="416.2" y2="1365.4" stroke="#3a3a3a" stroke-width="1.6"/>
<line x1="468.9" y1="1361.9" x2="468.9" y2="1367.9" stroke="#3a3a3a" stroke-width="1.6"/>
<text x="468.9" y="1387.0" font-size="18.6" fill="#333" text-anchor="middle" font-weight="normal" >700</text>
<line x1="521.6" y1="1361.9" x2="521.6" y2="1365.4" stroke="#3a3a3a" stroke-width="1.6"/>
<line x1="574.3" y1="1361.9" x2="574.3" y2="1367.9" stroke="#3a3a3a" stroke-width="1.6"/>
<text x="574.3" y="1387.0" font-size="18.6" fill="#333" text-anchor="middle" font-weight="normal" >750</text>
<text x="388.5" y="1418" font-size="27" fill="#111" text-anchor="middle" font-weight="normal" textLength="204" lengthAdjust="spacingAndGlyphs">Wavelength (nm)</text>
<text transform="translate(134.8,1165.5) rotate(-90)" font-size="28" fill="#111" text-anchor="middle" textLength="218" lengthAdjust="spacingAndGlyphs">PL intensity (a.u.)</text>
<text x="212.5" y="984.3" font-size="26.5" fill="#222" text-anchor="start" font-weight="normal" >1L</text>
<line x1="491.5" y1="967.8" x2="527" y2="967.8" stroke="#b03a5a" stroke-width="1.2" opacity="0.85"/>
<text x="569.3" y="973.6" font-size="16.3" fill="#333" text-anchor="end" font-weight="normal" >90 V</text>
<line x1="491.5" y1="989.4" x2="527" y2="989.4" stroke="#2e8a78" stroke-width="1.2" opacity="0.85"/>
<text x="569.3" y="995.2" font-size="16.3" fill="#333" text-anchor="end" font-weight="normal" >70 V</text>
<line x1="491.5" y1="1011.1" x2="527" y2="1011.1" stroke="#a03cb4" stroke-width="1.2" opacity="0.85"/>
<text x="569.3" y="1016.9" font-size="16.3" fill="#333" text-anchor="end" font-weight="normal" >50 V</text>
<line x1="491.5" y1="1031.4" x2="527" y2="1031.4" stroke="#6fdcf0" stroke-width="1.9999999999999998" opacity="0.85"/>
<text x="569.3" y="1037.2" font-size="16.3" fill="#333" text-anchor="end" font-weight="normal" >30 V</text>
<line x1="491.5" y1="1053.1" x2="527" y2="1053.1" stroke="#2f7a5e" stroke-width="1.2" opacity="0.85"/>
<text x="569.3" y="1058.9" font-size="16.3" fill="#333" text-anchor="end" font-weight="normal" >10 V</text>
<line x1="491.5" y1="1074.1" x2="527" y2="1074.1" stroke="#5a1a3c" stroke-width="1.2" opacity="0.85"/>
<text x="569.3" y="1079.9" font-size="16.3" fill="#333" text-anchor="end" font-weight="normal" >-10 V</text>
<line x1="491.5" y1="1095.1" x2="527" y2="1095.1" stroke="#4a2c9c" stroke-width="1.2" opacity="0.85"/>
<text x="569.3" y="1100.9" font-size="16.3" fill="#333" text-anchor="end" font-weight="normal" >-30 V</text>
<line x1="491.5" y1="1116" x2="527" y2="1116" stroke="#e0a03c" stroke-width="1.2" opacity="0.85"/>
<text x="569.3" y="1121.8" font-size="16.3" fill="#333" text-anchor="end" font-weight="normal" >-50 V</text>
<line x1="491.5" y1="1138.1" x2="527" y2="1138.1" stroke="#e04c7e" stroke-width="1.2" opacity="0.85"/>
<text x="569.3" y="1143.9" font-size="16.3" fill="#333" text-anchor="end" font-weight="normal" >-70 V</text>
<line x1="491.5" y1="1159.1" x2="527" y2="1159.1" stroke="#2a1c9a" stroke-width="1.2" opacity="0.85"/>
<text x="569.3" y="1164.9" font-size="16.3" fill="#333" text-anchor="end" font-weight="normal" >-90 V</text>
</g>
<g id="panel-e">
<text x="678" y="845.8" font-size="47.5" fill="#000" text-anchor="middle" font-weight="normal" >e</text>
<ellipse cx="988.3" cy="1201.0" rx="10.7" ry="11.4" fill="none" stroke="#e4e4e4" stroke-width="1" stroke-dasharray="2 2"/>
<ellipse cx="988.3" cy="1201.0" rx="21.4" ry="22.7" fill="none" stroke="#c8c8c8" stroke-width="1.3"/>
<ellipse cx="988.3" cy="1201.0" rx="32.1" ry="34.1" fill="none" stroke="#e4e4e4" stroke-width="1" stroke-dasharray="2 2"/>
<ellipse cx="988.3" cy="1201.0" rx="42.8" ry="45.5" fill="none" stroke="#c8c8c8" stroke-width="1.3"/>
<ellipse cx="988.3" cy="1201.0" rx="53.5" ry="56.8" fill="none" stroke="#e4e4e4" stroke-width="1" stroke-dasharray="2 2"/>
<ellipse cx="988.3" cy="1201.0" rx="64.2" ry="68.2" fill="none" stroke="#c8c8c8" stroke-width="1.3"/>
<ellipse cx="988.3" cy="1201.0" rx="74.9" ry="79.5" fill="none" stroke="#e4e4e4" stroke-width="1" stroke-dasharray="2 2"/>
<ellipse cx="988.3" cy="1201.0" rx="85.6" ry="90.9" fill="none" stroke="#c8c8c8" stroke-width="1.3"/>
<ellipse cx="988.3" cy="1201.0" rx="96.3" ry="102.3" fill="none" stroke="#e4e4e4" stroke-width="1" stroke-dasharray="2 2"/>
<ellipse cx="988.3" cy="1201.0" rx="107.0" ry="113.6" fill="none" stroke="#c8c8c8" stroke-width="1.3"/>
<ellipse cx="988.3" cy="1201.0" rx="117.7" ry="125.0" fill="none" stroke="#e4e4e4" stroke-width="1" stroke-dasharray="2 2"/>
<ellipse cx="988.3" cy="1201.0" rx="128.5" ry="136.4" fill="none" stroke="#c8c8c8" stroke-width="1.3"/>
<ellipse cx="988.3" cy="1201.0" rx="139.2" ry="147.7" fill="none" stroke="#e4e4e4" stroke-width="1" stroke-dasharray="2 2"/>
<ellipse cx="988.3" cy="1201.0" rx="149.9" ry="159.1" fill="none" stroke="#c8c8c8" stroke-width="1.3"/>
<ellipse cx="988.3" cy="1201.0" rx="160.6" ry="170.5" fill="none" stroke="#e4e4e4" stroke-width="1" stroke-dasharray="2 2"/>
<ellipse cx="988.3" cy="1201.0" rx="171.3" ry="181.8" fill="none" stroke="#c8c8c8" stroke-width="1.3"/>
<ellipse cx="988.3" cy="1201.0" rx="182.0" ry="193.2" fill="none" stroke="#e4e4e4" stroke-width="1" stroke-dasharray="2 2"/>
<line x1="990.5" y1="1187.6" x2="1021.0" y2="1004.0" stroke="#d4d4d4" stroke-width="0.9" stroke-dasharray="1.5 2.5"/>
<line x1="994.7" y1="1189.2" x2="1082.5" y2="1027.8" stroke="#d4d4d4" stroke-width="0.9" stroke-dasharray="1.5 2.5"/>
<line x1="998.1" y1="1192.2" x2="1132.6" y2="1072.4" stroke="#d4d4d4" stroke-width="0.9" stroke-dasharray="1.5 2.5"/>
<line x1="1000.4" y1="1196.3" x2="1165.3" y2="1132.6" stroke="#d4d4d4" stroke-width="0.9" stroke-dasharray="1.5 2.5"/>
<line x1="1001.1" y1="1201.0" x2="1176.7" y2="1201.0" stroke="#d4d4d4" stroke-width="0.9" stroke-dasharray="1.5 2.5"/>
<line x1="1000.4" y1="1205.7" x2="1165.3" y2="1269.4" stroke="#d4d4d4" stroke-width="0.9" stroke-dasharray="1.5 2.5"/>
<line x1="998.1" y1="1209.8" x2="1132.6" y2="1329.6" stroke="#d4d4d4" stroke-width="0.9" stroke-dasharray="1.5 2.5"/>
<line x1="994.7" y1="1212.8" x2="1082.5" y2="1374.2" stroke="#d4d4d4" stroke-width="0.9" stroke-dasharray="1.5 2.5"/>
<line x1="990.5" y1="1214.4" x2="1021.0" y2="1398.0" stroke="#d4d4d4" stroke-width="0.9" stroke-dasharray="1.5 2.5"/>
<line x1="986.1" y1="1214.4" x2="955.6" y2="1398.0" stroke="#d4d4d4" stroke-width="0.9" stroke-dasharray="1.5 2.5"/>
<line x1="981.9" y1="1212.8" x2="894.1" y2="1374.2" stroke="#d4d4d4" stroke-width="0.9" stroke-dasharray="1.5 2.5"/>
<line x1="978.5" y1="1209.8" x2="844.0" y2="1329.6" stroke="#d4d4d4" stroke-width="0.9" stroke-dasharray="1.5 2.5"/>
<line x1="976.2" y1="1205.7" x2="811.3" y2="1269.4" stroke="#d4d4d4" stroke-width="0.9" stroke-dasharray="1.5 2.5"/>
<line x1="975.5" y1="1201.0" x2="799.9" y2="1201.0" stroke="#d4d4d4" stroke-width="0.9" stroke-dasharray="1.5 2.5"/>
<line x1="976.2" y1="1196.3" x2="811.3" y2="1132.6" stroke="#d4d4d4" stroke-width="0.9" stroke-dasharray="1.5 2.5"/>
<line x1="978.5" y1="1192.2" x2="844.0" y2="1072.4" stroke="#d4d4d4" stroke-width="0.9" stroke-dasharray="1.5 2.5"/>
<line x1="981.9" y1="1189.2" x2="894.1" y2="1027.8" stroke="#d4d4d4" stroke-width="0.9" stroke-dasharray="1.5 2.5"/>
<line x1="986.1" y1="1187.6" x2="955.6" y2="1004.0" stroke="#d4d4d4" stroke-width="0.9" stroke-dasharray="1.5 2.5"/>
<line x1="988.3" y1="1201.0" x2="988.3" y2="1001.0" stroke="#a4a4a4" stroke-width="1.2"/>
<line x1="988.3" y1="1201.0" x2="1052.7" y2="1013.1" stroke="#a4a4a4" stroke-width="1.2"/>
<line x1="988.3" y1="1201.0" x2="1109.4" y2="1047.8" stroke="#a4a4a4" stroke-width="1.2"/>
<line x1="988.3" y1="1201.0" x2="1151.5" y2="1101.0" stroke="#a4a4a4" stroke-width="1.2"/>
<line x1="988.3" y1="1201.0" x2="1173.8" y2="1166.3" stroke="#a4a4a4" stroke-width="1.2"/>
<line x1="988.3" y1="1201.0" x2="1173.8" y2="1235.7" stroke="#a4a4a4" stroke-width="1.2"/>
<line x1="988.3" y1="1201.0" x2="1151.5" y2="1301.0" stroke="#a4a4a4" stroke-width="1.2"/>
<line x1="988.3" y1="1201.0" x2="1109.4" y2="1354.2" stroke="#a4a4a4" stroke-width="1.2"/>
<line x1="988.3" y1="1201.0" x2="1052.7" y2="1388.9" stroke="#a4a4a4" stroke-width="1.2"/>
<line x1="988.3" y1="1201.0" x2="988.3" y2="1401.0" stroke="#a4a4a4" stroke-width="1.2"/>
<line x1="988.3" y1="1201.0" x2="923.9" y2="1388.9" stroke="#a4a4a4" stroke-width="1.2"/>
<line x1="988.3" y1="1201.0" x2="867.2" y2="1354.2" stroke="#a4a4a4" stroke-width="1.2"/>
<line x1="988.3" y1="1201.0" x2="825.1" y2="1301.0" stroke="#a4a4a4" stroke-width="1.2"/>
<line x1="988.3" y1="1201.0" x2="802.8" y2="1235.7" stroke="#a4a4a4" stroke-width="1.2"/>
<line x1="988.3" y1="1201.0" x2="802.8" y2="1166.3" stroke="#a4a4a4" stroke-width="1.2"/>
<line x1="988.3" y1="1201.0" x2="825.1" y2="1101.0" stroke="#a4a4a4" stroke-width="1.2"/>
<line x1="988.3" y1="1201.0" x2="867.2" y2="1047.8" stroke="#a4a4a4" stroke-width="1.2"/>
<line x1="988.3" y1="1201.0" x2="923.9" y2="1013.1" stroke="#a4a4a4" stroke-width="1.2"/>
<ellipse cx="988.3" cy="1201.0" rx="188.4" ry="200.0" fill="none" stroke="#333" stroke-width="1.5"/>
<line x1="988.3" y1="1001.0" x2="988.3" y2="996.5" stroke="#333" stroke-width="1.1"/>
<line x1="1021.0" y1="1004.0" x2="1021.5" y2="1001.4" stroke="#333" stroke-width="1.1"/>
<line x1="1052.7" y1="1013.1" x2="1054.2" y2="1008.8" stroke="#333" stroke-width="1.1"/>
<line x1="1082.5" y1="1027.8" x2="1083.8" y2="1025.4" stroke="#333" stroke-width="1.1"/>
<line x1="1109.4" y1="1047.8" x2="1112.2" y2="1044.3" stroke="#333" stroke-width="1.1"/>
<line x1="1132.6" y1="1072.4" x2="1134.6" y2="1070.7" stroke="#333" stroke-width="1.1"/>
<line x1="1151.5" y1="1101.0" x2="1155.2" y2="1098.7" stroke="#333" stroke-width="1.1"/>
<line x1="1165.3" y1="1132.6" x2="1167.8" y2="1131.7" stroke="#333" stroke-width="1.1"/>
<line x1="1173.8" y1="1166.3" x2="1178.1" y2="1165.5" stroke="#333" stroke-width="1.1"/>
<line x1="1176.7" y1="1201.0" x2="1179.3" y2="1201.0" stroke="#333" stroke-width="1.1"/>
<line x1="1173.8" y1="1235.7" x2="1178.1" y2="1236.5" stroke="#333" stroke-width="1.1"/>
<line x1="1165.3" y1="1269.4" x2="1167.8" y2="1270.3" stroke="#333" stroke-width="1.1"/>
<line x1="1151.5" y1="1301.0" x2="1155.2" y2="1303.3" stroke="#333" stroke-width="1.1"/>
<line x1="1132.6" y1="1329.6" x2="1134.6" y2="1331.3" stroke="#333" stroke-width="1.1"/>
<line x1="1109.4" y1="1354.2" x2="1112.2" y2="1357.7" stroke="#333" stroke-width="1.1"/>
<line x1="1082.5" y1="1374.2" x2="1083.8" y2="1376.6" stroke="#333" stroke-width="1.1"/>
<line x1="1052.7" y1="1388.9" x2="1054.2" y2="1393.2" stroke="#333" stroke-width="1.1"/>
<line x1="1021.0" y1="1398.0" x2="1021.5" y2="1400.6" stroke="#333" stroke-width="1.1"/>
<line x1="988.3" y1="1401.0" x2="988.3" y2="1405.5" stroke="#333" stroke-width="1.1"/>
<line x1="955.6" y1="1398.0" x2="955.1" y2="1400.6" stroke="#333" stroke-width="1.1"/>
<line x1="923.9" y1="1388.9" x2="922.4" y2="1393.2" stroke="#333" stroke-width="1.1"/>
<line x1="894.1" y1="1374.2" x2="892.8" y2="1376.6" stroke="#333" stroke-width="1.1"/>
<line x1="867.2" y1="1354.2" x2="864.4" y2="1357.7" stroke="#333" stroke-width="1.1"/>
<line x1="844.0" y1="1329.6" x2="842.0" y2="1331.3" stroke="#333" stroke-width="1.1"/>
<line x1="825.1" y1="1301.0" x2="821.4" y2="1303.3" stroke="#333" stroke-width="1.1"/>
<line x1="811.3" y1="1269.4" x2="808.8" y2="1270.3" stroke="#333" stroke-width="1.1"/>
<line x1="802.8" y1="1235.7" x2="798.5" y2="1236.5" stroke="#333" stroke-width="1.1"/>
<line x1="799.9" y1="1201.0" x2="797.3" y2="1201.0" stroke="#333" stroke-width="1.1"/>
<line x1="802.8" y1="1166.3" x2="798.5" y2="1165.5" stroke="#333" stroke-width="1.1"/>
<line x1="811.3" y1="1132.6" x2="808.8" y2="1131.7" stroke="#333" stroke-width="1.1"/>
<line x1="825.1" y1="1101.0" x2="821.4" y2="1098.7" stroke="#333" stroke-width="1.1"/>
<line x1="844.0" y1="1072.4" x2="842.0" y2="1070.7" stroke="#333" stroke-width="1.1"/>
<line x1="867.2" y1="1047.8" x2="864.4" y2="1044.3" stroke="#333" stroke-width="1.1"/>
<line x1="894.1" y1="1027.8" x2="892.8" y2="1025.4" stroke="#333" stroke-width="1.1"/>
<line x1="923.9" y1="1013.1" x2="922.4" y2="1008.8" stroke="#333" stroke-width="1.1"/>
<line x1="955.6" y1="1004.0" x2="955.1" y2="1001.4" stroke="#333" stroke-width="1.1"/>
<text x="988.3" y="984.5" font-size="19.5" fill="#333" text-anchor="middle" font-weight="normal" >0</text>
<text x="1052.8" y="1000.1" font-size="19.5" fill="#333" text-anchor="middle" font-weight="normal" >20</text>
<text x="1116.6" y="1037.3" font-size="19.5" fill="#333" text-anchor="middle" font-weight="normal" >40</text>
<text x="1162.3" y="1096.7" font-size="19.5" fill="#333" text-anchor="middle" font-weight="normal" >60</text>
<text x="1188.5" y="1168.2" font-size="19.5" fill="#333" text-anchor="middle" font-weight="normal" >80</text>
<text x="1194.7" y="1244.4" font-size="19.5" fill="#333" text-anchor="middle" font-weight="normal" >100</text>
<text x="1168.1" y="1316.7" font-size="19.5" fill="#333" text-anchor="middle" font-weight="normal" >120</text>
<text x="1122.0" y="1375.4" font-size="19.5" fill="#333" text-anchor="middle" font-weight="normal" >140</text>
<text x="1058.7" y="1413.3" font-size="19.5" fill="#333" text-anchor="middle" font-weight="normal" >160</text>
<text x="988.3" y="1425.0" font-size="19.5" fill="#333" text-anchor="middle" font-weight="normal" >180</text>
<text x="914.1" y="1413.3" font-size="19.5" fill="#333" text-anchor="middle" font-weight="normal" >200</text>
<text x="850.8" y="1375.4" font-size="19.5" fill="#333" text-anchor="middle" font-weight="normal" >220</text>
<text x="803.8" y="1316.7" font-size="19.5" fill="#333" text-anchor="middle" font-weight="normal" >240</text>
<text x="781.2" y="1244.4" font-size="19.5" fill="#333" text-anchor="middle" font-weight="normal" >260</text>
<text x="781.2" y="1168.2" font-size="19.5" fill="#333" text-anchor="middle" font-weight="normal" >280</text>
<text x="803.8" y="1096.7" font-size="19.5" fill="#333" text-anchor="middle" font-weight="normal" >300</text>
<text x="850.8" y="1037.3" font-size="19.5" fill="#333" text-anchor="middle" font-weight="normal" >320</text>
<text x="914.9" y="1000.1" font-size="19.5" fill="#333" text-anchor="middle" font-weight="normal" >340</text>
<polygon points="990.3,1129.2 993.8,1129.3 997.4,1129.6 1000.9,1130.1 1004.3,1130.9 1007.8,1131.8 1011.1,1132.9 1014.4,1134.3 1017.6,1135.8 1020.8,1137.5 1023.8,1139.4 1026.7,1141.4 1029.5,1143.7 1032.2,1146.0 1034.8,1148.5 1037.2,1151.2 1039.5,1154.0 1041.7,1156.8 1043.7,1159.8 1045.5,1162.9 1047.2,1166.1 1048.8,1169.4 1050.1,1172.7 1051.4,1176.1 1052.4,1179.6 1053.3,1183.1 1054.1,1186.6 1054.6,1190.2 1055.1,1193.8 1055.3,1197.4 1055.4,1201.0 1055.3,1204.6 1055.1,1208.2 1054.6,1211.8 1054.1,1215.4 1053.3,1218.9 1052.4,1222.4 1051.4,1225.9 1050.1,1229.3 1048.8,1232.6 1047.2,1235.9 1045.5,1239.1 1043.7,1242.2 1041.7,1245.2 1039.5,1248.0 1037.2,1250.8 1034.8,1253.5 1032.2,1256.0 1029.5,1258.3 1026.7,1260.6 1023.8,1262.6 1020.8,1264.5 1017.6,1266.2 1014.4,1267.7 1011.1,1269.1 1007.8,1270.2 1004.3,1271.1 1000.9,1271.9 997.4,1272.4 993.8,1272.7 990.3,1272.8 986.8,1272.7 983.2,1272.4 979.7,1271.9 976.3,1271.1 972.8,1270.2 969.5,1269.1 966.2,1267.7 963.0,1266.2 959.8,1264.5 956.8,1262.6 953.9,1260.6 951.1,1258.3 948.4,1256.0 945.8,1253.5 943.4,1250.8 941.1,1248.0 938.9,1245.2 936.9,1242.2 935.1,1239.1 933.4,1235.9 931.8,1232.6 930.5,1229.3 929.2,1225.9 928.2,1222.4 927.3,1218.9 926.5,1215.4 926.0,1211.8 925.5,1208.2 925.3,1204.6 925.2,1201.0 925.3,1197.4 925.5,1193.8 926.0,1190.2 926.5,1186.6 927.3,1183.1 928.2,1179.6 929.2,1176.1 930.5,1172.7 931.8,1169.4 933.4,1166.1 935.1,1162.9 936.9,1159.8 938.9,1156.8 941.1,1154.0 943.4,1151.2 945.8,1148.5 948.4,1146.0 951.1,1143.7 953.9,1141.4 956.8,1139.4 959.8,1137.5 963.0,1135.8 966.2,1134.3 969.5,1132.9 972.8,1131.8 976.3,1130.9 979.7,1130.1 983.2,1129.6 986.8,1129.3 990.3,1129.2" fill="none" stroke="#d62020" stroke-width="2.7"/>
<polygon points="988.3,1019.2 994.3,1019.8 1000.2,1020.9 1005.9,1022.7 1011.6,1025.2 1017.0,1028.2 1022.2,1031.7 1027.1,1035.9 1031.7,1040.5 1035.9,1045.6 1039.7,1051.1 1043.1,1057.0 1046.1,1063.2 1048.6,1069.7 1050.7,1076.5 1052.2,1083.4 1053.3,1090.5 1054.0,1097.6 1054.2,1104.8 1053.9,1111.9 1053.1,1119.0 1052.0,1125.9 1050.5,1132.7 1048.6,1139.2 1046.3,1145.5 1043.8,1151.5 1041.1,1157.2 1038.1,1162.6 1034.9,1167.6 1031.6,1172.3 1028.3,1176.5 1024.9,1180.4 1021.5,1183.8 1018.2,1186.9 1014.9,1189.6 1011.8,1191.9 1008.9,1193.9 1006.2,1195.5 1003.8,1196.9 1001.7,1198.0 999.8,1198.8 998.3,1199.5 997.2,1200.0 996.4,1200.4 996.1,1200.7 996.1,1201.0 996.4,1201.3 997.2,1201.7 998.4,1202.1 999.9,1202.7 1001.7,1203.5 1003.9,1204.5 1006.4,1205.8 1009.1,1207.3 1012.1,1209.2 1015.2,1211.4 1018.5,1214.0 1022.0,1216.9 1025.4,1220.2 1029.0,1224.0 1032.5,1228.1 1035.9,1232.6 1039.2,1237.4 1042.3,1242.7 1045.3,1248.3 1048.0,1254.2 1050.4,1260.4 1052.5,1266.8 1054.3,1273.5 1055.6,1280.4 1056.6,1287.4 1057.1,1294.5 1057.2,1301.6 1056.8,1308.8 1055.9,1315.8 1054.6,1322.8 1052.7,1329.6 1050.4,1336.2 1047.7,1342.5 1044.5,1348.5 1040.8,1354.2 1036.8,1359.4 1032.4,1364.2 1027.6,1368.5 1022.6,1372.2 1017.3,1375.4 1011.7,1378.1 1006.0,1380.1 1000.2,1381.4 994.3,1382.2 988.3,1382.3 982.4,1381.8 976.5,1380.6 970.7,1378.8 965.1,1376.4 959.7,1373.4 954.5,1369.8 949.6,1365.7 945.1,1361.1 940.8,1356.0 937.0,1350.5 933.6,1344.6 930.7,1338.4 928.1,1331.9 926.1,1325.2 924.5,1318.3 923.4,1311.2 922.8,1304.1 922.6,1297.0 922.9,1289.9 923.6,1282.8 924.8,1275.9 926.3,1269.2 928.2,1262.6 930.4,1256.4 932.9,1250.3 935.7,1244.7 938.6,1239.3 941.8,1234.3 945.1,1229.7 948.4,1225.4 951.8,1221.6 955.2,1218.1 958.5,1215.1 961.7,1212.4 964.8,1210.1 967.7,1208.1 970.4,1206.5 972.8,1205.1 975.0,1204.0 976.8,1203.2 978.3,1202.5 979.4,1202.0 980.2,1201.6 980.5,1201.3 980.5,1201.0 980.1,1200.7 979.4,1200.3 978.2,1199.9 976.7,1199.3 974.8,1198.5 972.7,1197.5 970.2,1196.2 967.5,1194.7 964.5,1192.8 961.3,1190.6 958.0,1188.0 954.6,1185.1 951.1,1181.7 947.6,1178.0 944.1,1173.9 940.6,1169.4 937.3,1164.5 934.1,1159.2 931.2,1153.6 928.5,1147.7 926.0,1141.5 923.9,1135.0 922.2,1128.3 920.8,1121.4 919.8,1114.4 919.3,1107.3 919.3,1100.1 919.7,1093.0 920.5,1085.9 921.9,1078.9 923.7,1072.1 926.0,1065.5 928.8,1059.1 932.0,1053.1 935.7,1047.4 939.7,1042.2 944.1,1037.4 948.9,1033.1 953.9,1029.3 959.3,1026.1 964.8,1023.5 970.5,1021.5 976.4,1020.1 982.3,1019.3 988.3,1019.2" fill="none" stroke="#0e1278" stroke-width="3.3"/>
<circle cx="988.3" cy="1023.6" r="4.6" fill="url(#ballB)"/>
<circle cx="938.3" cy="1054.5" r="4.6" fill="url(#ballB)"/>
<circle cx="1032.5" cy="1070.9" r="4.6" fill="url(#ballB)"/>
<circle cx="1058.7" cy="1110.8" r="4.6" fill="url(#ballB)"/>
<circle cx="919.5" cy="1113.9" r="4.6" fill="url(#ballB)"/>
<circle cx="928.1" cy="1163.2" r="4.6" fill="url(#ballB)"/>
<circle cx="1047.0" cy="1163.2" r="4.6" fill="url(#ballB)"/>
<circle cx="966.1" cy="1196.8" r="4.6" fill="url(#ballB)"/>
<circle cx="975.1" cy="1203.0" r="4.6" fill="url(#ballB)"/>
<circle cx="996.9" cy="1200.7" r="4.6" fill="url(#ballB)"/>
<circle cx="1004.0" cy="1203.4" r="4.6" fill="url(#ballB)"/>
<circle cx="1018.8" cy="1194.0" r="4.6" fill="url(#ballB)"/>
<circle cx="958.2" cy="1219.1" r="4.6" fill="url(#ballB)"/>
<circle cx="1037.6" cy="1219.8" r="4.6" fill="url(#ballB)"/>
<circle cx="1047.0" cy="1236.6" r="4.6" fill="url(#ballB)"/>
<circle cx="922.7" cy="1283.2" r="4.6" fill="url(#ballB)"/>
<circle cx="1057.9" cy="1289.8" r="4.6" fill="url(#ballB)"/>
<circle cx="940.3" cy="1340.6" r="4.6" fill="url(#ballB)"/>
<circle cx="1038.4" cy="1349.6" r="4.6" fill="url(#ballB)"/>
<circle cx="988.3" cy="1368.8" r="4.6" fill="url(#ballB)"/>
<circle cx="988.3" cy="1135.0" r="4.2" fill="url(#ballR)"/>
<circle cx="955.9" cy="1139.7" r="4.2" fill="url(#ballR)"/>
<circle cx="1025.5" cy="1130.7" r="4.2" fill="url(#ballR)"/>
<circle cx="932.4" cy="1165.9" r="4.2" fill="url(#ballR)"/>
<circle cx="1048.9" cy="1162.8" r="4.2" fill="url(#ballR)"/>
<circle cx="924.6" cy="1200.7" r="4.2" fill="url(#ballR)"/>
<circle cx="1052.1" cy="1200.7" r="4.2" fill="url(#ballR)"/>
<circle cx="930.9" cy="1236.3" r="4.2" fill="url(#ballR)"/>
<circle cx="1050.1" cy="1238.2" r="4.2" fill="url(#ballR)"/>
<circle cx="957.1" cy="1258.1" r="4.2" fill="url(#ballR)"/>
<circle cx="1023.9" cy="1266.4" r="4.2" fill="url(#ballR)"/>
<circle cx="988.3" cy="1267.5" r="4.2" fill="url(#ballR)"/>
<circle cx="988.3" cy="1201.0" r="4" fill="#aaa" opacity="0.7"/>
<line x1="762.8" y1="999" x2="762.8" y2="1401" stroke="#333" stroke-width="1.9"/>
<line x1="759" y1="999" x2="762.8" y2="999" stroke="#333" stroke-width="1.2"/><line x1="759" y1="1401" x2="762.8" y2="1401" stroke="#333" stroke-width="1.2"/>
<line x1="757.5" y1="1021.7" x2="762.8" y2="1021.7" stroke="#333" stroke-width="1.3"/>
<text x="753.5" y="1029.2" font-size="21.5" fill="#222" text-anchor="end" font-weight="normal" >4</text>
<line x1="757.5" y1="1067.8" x2="762.8" y2="1067.8" stroke="#333" stroke-width="1.3"/>
<text x="753.5" y="1075.3" font-size="21.5" fill="#222" text-anchor="end" font-weight="normal" >3</text>
<line x1="757.5" y1="1113.9" x2="762.8" y2="1113.9" stroke="#333" stroke-width="1.3"/>
<text x="753.5" y="1121.4" font-size="21.5" fill="#222" text-anchor="end" font-weight="normal" >2</text>
<line x1="757.5" y1="1159.3" x2="762.8" y2="1159.3" stroke="#333" stroke-width="1.3"/>
<text x="753.5" y="1166.8" font-size="21.5" fill="#222" text-anchor="end" font-weight="normal" >1</text>
<line x1="757.5" y1="1240.6" x2="762.8" y2="1240.6" stroke="#333" stroke-width="1.3"/>
<text x="753.5" y="1248.1" font-size="21.5" fill="#222" text-anchor="end" font-weight="normal" >1</text>
<line x1="757.5" y1="1286.7" x2="762.8" y2="1286.7" stroke="#333" stroke-width="1.3"/>
<text x="753.5" y="1294.2" font-size="21.5" fill="#222" text-anchor="end" font-weight="normal" >2</text>
<line x1="757.5" y1="1332.4" x2="762.8" y2="1332.4" stroke="#333" stroke-width="1.3"/>
<text x="753.5" y="1339.9" font-size="21.5" fill="#222" text-anchor="end" font-weight="normal" >3</text>
<line x1="757.5" y1="1377.4" x2="762.8" y2="1377.4" stroke="#333" stroke-width="1.3"/>
<text x="753.5" y="1384.9" font-size="21.5" fill="#222" text-anchor="end" font-weight="normal" >4</text>
<line x1="760" y1="1361.1" x2="762.8" y2="1361.1" stroke="#333" stroke-width="1"/>
<line x1="760" y1="1315.6" x2="762.8" y2="1315.6" stroke="#333" stroke-width="1"/>
<line x1="760" y1="1270.2" x2="762.8" y2="1270.2" stroke="#333" stroke-width="1"/>
<line x1="760" y1="1224.7" x2="762.8" y2="1224.7" stroke="#333" stroke-width="1"/>
<line x1="760" y1="1176.3" x2="762.8" y2="1176.3" stroke="#333" stroke-width="1"/>
<line x1="760" y1="1130.8" x2="762.8" y2="1130.8" stroke="#333" stroke-width="1"/>
<line x1="760" y1="1085.4" x2="762.8" y2="1085.4" stroke="#333" stroke-width="1"/>
<line x1="760" y1="1039.9" x2="762.8" y2="1039.9" stroke="#333" stroke-width="1"/>
<text transform="translate(699.3,1190.5) rotate(-90)" font-size="27.5" fill="#111" text-anchor="middle" textLength="213" lengthAdjust="spacingAndGlyphs">PL intensity (a.u.)</text>
<circle cx="789.4" cy="952.9" r="4.6" fill="url(#ballB)"/>
<circle cx="789.4" cy="982.6" r="4.2" fill="url(#ballR)"/>
<text x="821" y="960.8" font-size="21.5" fill="#333" text-anchor="start" font-weight="normal" >1L</text>
<text x="820.3" y="989.5" font-size="21.5" fill="#333" text-anchor="start" font-weight="normal" >WL</text>
<g stroke="#222" stroke-width="1.3" fill="none"><line x1="1141.6" y1="903.2" x2="1212" y2="903.2"/><line x1="1141.6" y1="903.2" x2="1141.6" y2="991"/><line x1="1141.6" y1="903.2" x2="1205.5" y2="971.5"/><path d="M1141.6,942.5 Q1158,947 1169,932.5"/></g>
<polygon points="1216,903.2 1208.5,900 1208.5,906.4" fill="#222"/>
<polygon points="1141.6,995 1138.4,987.5 1144.8,987.5" fill="#222"/>
<polygon points="1209.5,975.8 1201.6,971.8 1206.4,967.3" fill="#222"/>
<text x="1221.5" y="910.5" font-size="21.5" fill="#222" text-anchor="start" font-weight="normal" >a</text>
<text x="1136.5" y="1019.5" font-size="21.5" fill="#222" text-anchor="start" font-weight="normal" >b</text>
<text x="1212" y="995.5" font-size="21.5" fill="#222" text-anchor="start" font-weight="normal" >E</text>
<text x="1156.5" y="971" font-size="20" fill="#222" text-anchor="start" font-weight="normal" >Θ</text>
</g>
<g id="panel-f">
<text x="1283.7" y="847.3" font-size="47.5" fill="#000" text-anchor="middle" font-weight="normal" >f</text>
<g filter="url(#jet1)">
<rect x="1363" y="888.2" width="429.3" height="216.1" fill="url(#bg1)"/>
<rect x="1363" y="888.2" width="429.3" height="216.1" fill="url(#band1v)" mask="url(#band1m)"/>
<rect x="1363" y="888.2" width="429.3" height="216.1" fill="url(#band1r)" mask="url(#band1rm)"/>
<ellipse cx="1600" cy="996.7" rx="150" ry="56" fill="url(#halo1)"/>
<ellipse cx="1602" cy="996.7" rx="50" ry="47" fill="url(#spot1)"/>
</g>
<line x1="1602" y1="889" x2="1602" y2="1104" stroke="#ffffff" stroke-width="1.3" stroke-dasharray="2 2.2" opacity="0.85"/>
<rect x="1794.2" y="888.2" width="9.4" height="216.1" fill="url(#jetbar)"/>
<text transform="translate(1807,913.4) scale(0.9,1)" font-size="16.5" fill="#505050" text-anchor="start">400</text>
<text transform="translate(1807,963.2) scale(0.9,1)" font-size="16.5" fill="#505050" text-anchor="start">300</text>
<text transform="translate(1807,1013.0) scale(0.9,1)" font-size="16.5" fill="#505050" text-anchor="start">200</text>
<text transform="translate(1807,1061.8) scale(0.9,1)" font-size="16.5" fill="#505050" text-anchor="start">100</text>
<text transform="translate(1807,1110.7) scale(0.9,1)" font-size="16.5" fill="#505050" text-anchor="start">0</text>
<text transform="translate(1357.5,896.7) scale(0.95,1)" font-size="18.6" fill="#505050" text-anchor="end">3</text>
<text transform="translate(1357.5,932.1) scale(0.95,1)" font-size="18.6" fill="#505050" text-anchor="end">2</text>
<text transform="translate(1357.5,968.1) scale(0.95,1)" font-size="18.6" fill="#505050" text-anchor="end">1</text>
<text transform="translate(1357.5,1002.5) scale(0.95,1)" font-size="18.6" fill="#505050" text-anchor="end">0</text>
<text transform="translate(1357.5,1038.5) scale(0.95,1)" font-size="18.6" fill="#505050" text-anchor="end">-1</text>
<text transform="translate(1357.5,1074.5) scale(0.95,1)" font-size="18.6" fill="#505050" text-anchor="end">-2</text>
<text transform="translate(1357.5,1110.6) scale(0.95,1)" font-size="18.6" fill="#505050" text-anchor="end">-3</text>
<text transform="translate(1427.2,1127) scale(0.93,1)" font-size="18.6" fill="#505050" text-anchor="middle">600</text>
<text transform="translate(1537.7,1127) scale(0.93,1)" font-size="18.6" fill="#505050" text-anchor="middle">650</text>
<text transform="translate(1648,1127) scale(0.93,1)" font-size="18.6" fill="#505050" text-anchor="middle">700</text>
<text transform="translate(1758.5,1127) scale(0.93,1)" font-size="18.6" fill="#505050" text-anchor="middle">750</text>
<text x="1368" y="927" font-size="39.5" fill="#fff" text-anchor="start" font-weight="normal" textLength="99.5" lengthAdjust="spacingAndGlyphs" stroke="#fff" stroke-width="0.5">298 K</text>
<text x="1725.5" y="926.6" font-size="39.5" fill="#fff" text-anchor="start" font-weight="normal" textLength="42.5" lengthAdjust="spacingAndGlyphs" stroke="#fff" stroke-width="0.5">1L</text>
<text x="1754.5" y="1096" font-size="39.5" fill="#fff" text-anchor="start" font-weight="normal" textLength="23.5" lengthAdjust="spacingAndGlyphs" stroke="#fff" stroke-width="0.5">0</text>
<g filter="url(#jet2)">
<rect x="1365.5" y="1153.5" width="427.5" height="217.6" fill="url(#bg2)"/>
<rect x="1365.5" y="1153.5" width="427.5" height="217.6" fill="url(#band2v)" mask="url(#band2m)"/>
<polygon points="1618,1240 1700,1248 1796,1256 1796,1270 1700,1277 1618,1286" fill="url(#band2r)" filter="url(#blurF)"/>
<ellipse cx="1604.8" cy="1264.8" rx="68" ry="35" fill="url(#spot2)"/>
</g>
<line x1="1602.7" y1="1229.5" x2="1602.7" y2="1295" stroke="#101010" stroke-width="1.3" stroke-dasharray="2.2 2" opacity="0.9"/>
<rect x="1795.8" y="1153.5" width="9.4" height="217.6" fill="url(#jetbar)"/>
<text transform="translate(1809,1163.4) scale(0.9,1)" font-size="16.5" fill="#505050" text-anchor="start">150</text>
<text transform="translate(1809,1233.8) scale(0.9,1)" font-size="16.5" fill="#505050" text-anchor="start">100</text>
<text transform="translate(1809,1306.5) scale(0.9,1)" font-size="16.5" fill="#505050" text-anchor="start">50</text>
<text transform="translate(1809,1376.9) scale(0.9,1)" font-size="16.5" fill="#505050" text-anchor="start">0</text>
<text transform="translate(1359,1160.7) scale(0.95,1)" font-size="18.6" fill="#505050" text-anchor="end">3</text>
<text transform="translate(1359,1196.7) scale(0.95,1)" font-size="18.6" fill="#505050" text-anchor="end">2</text>
<text transform="translate(1359,1232.7) scale(0.95,1)" font-size="18.6" fill="#505050" text-anchor="end">1</text>
<text transform="translate(1359,1268.8) scale(0.95,1)" font-size="18.6" fill="#505050" text-anchor="end">0</text>
<text transform="translate(1359,1305.4) scale(0.95,1)" font-size="18.6" fill="#505050" text-anchor="end">-1</text>
<text transform="translate(1359,1341.4) scale(0.95,1)" font-size="18.6" fill="#505050" text-anchor="end">-2</text>
<text transform="translate(1359,1377.4) scale(0.95,1)" font-size="18.6" fill="#505050" text-anchor="end">-3</text>
<text transform="translate(1429.7,1394) scale(0.93,1)" font-size="18.6" fill="#505050" text-anchor="middle">600</text>
<text transform="translate(1539.3,1394) scale(0.93,1)" font-size="18.6" fill="#505050" text-anchor="middle">650</text>
<text transform="translate(1649.8,1394) scale(0.93,1)" font-size="18.6" fill="#505050" text-anchor="middle">700</text>
<text transform="translate(1759.4,1394) scale(0.93,1)" font-size="18.6" fill="#505050" text-anchor="middle">750</text>
<text x="1739.5" y="1366" font-size="39.5" fill="#fff" text-anchor="start" font-weight="normal" textLength="44.5" lengthAdjust="spacingAndGlyphs" stroke="#fff" stroke-width="0.5">90</text>
<text x="1565" y="1443.2" font-size="31" fill="#222" text-anchor="middle" font-weight="normal" textLength="261" lengthAdjust="spacingAndGlyphs">Wavelength (nm)</text>
<text transform="translate(1311.5,1160) rotate(-90)" font-size="34.5" fill="#222" text-anchor="middle" textLength="169" lengthAdjust="spacingAndGlyphs">Space(µm)</text>
</g>
</svg>
</body></html>
